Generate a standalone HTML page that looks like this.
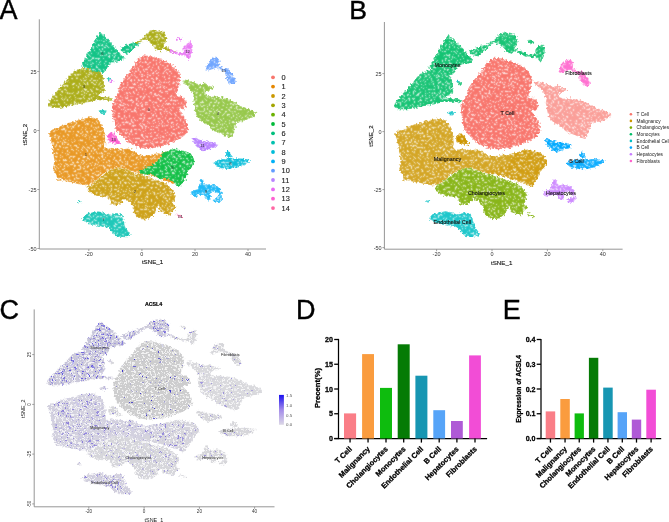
<!DOCTYPE html>
<html><head><meta charset="utf-8"><style>
html,body{margin:0;padding:0;background:#fff;}
svg{display:block;font-family:"Liberation Sans",sans-serif;will-change:transform;}
</style></head><body>
<svg width="669" height="522" viewBox="0 0 669 522">
<rect width="669" height="522" fill="#fff"/>
<defs><filter id="spkc" x="0" y="0" width="1" height="1" filterUnits="objectBoundingBox" color-interpolation-filters="sRGB"><feTurbulence type="fractalNoise" baseFrequency="0.55" numOctaves="2" seed="11"/><feColorMatrix type="matrix" values="0 0 0 0 1  0 0 0 0 1  0 0 0 0 1  -14 0 0 0 6.4"/></filter><filter id="pa" x="0" y="0" width="1" height="1" filterUnits="objectBoundingBox" color-interpolation-filters="sRGB"><feTurbulence type="fractalNoise" baseFrequency="0.6" numOctaves="2" seed="23"/><feColorMatrix type="matrix" values="0 0 0 0 0.55  0 0 0 0 0.5  0 0 0 0 0.86  -14 0 0 0 4.35"/></filter><filter id="pb" x="0" y="0" width="1" height="1" filterUnits="objectBoundingBox" color-interpolation-filters="sRGB"><feTurbulence type="fractalNoise" baseFrequency="0.45" numOctaves="2" seed="41"/><feColorMatrix type="matrix" values="0 0 0 0 0.5  0 0 0 0 0.45  0 0 0 0 0.85  -14 0 0 0 4.5"/></filter><filter id="pc" x="0" y="0" width="1" height="1" filterUnits="objectBoundingBox" color-interpolation-filters="sRGB"><feTurbulence type="fractalNoise" baseFrequency="0.5" numOctaves="2" seed="57"/><feColorMatrix type="matrix" values="0 0 0 0 0.25  0 0 0 0 0.22  0 0 0 0 0.8  -16 0 0 0 4.75"/></filter><filter id="pd" x="0" y="0" width="1" height="1" filterUnits="objectBoundingBox" color-interpolation-filters="sRGB"><feTurbulence type="fractalNoise" baseFrequency="0.45" numOctaves="2" seed="77"/><feColorMatrix type="matrix" values="0 0 0 0 0.36  0 0 0 0 0.32  0 0 0 0 0.88  -14 0 0 0 4.9"/></filter><filter id="rough" x="-0.05" y="-0.05" width="1.1" height="1.1" color-interpolation-filters="sRGB"><feTurbulence type="fractalNoise" baseFrequency="0.5" numOctaves="2" seed="5" result="t"/><feDisplacementMap in="SourceGraphic" in2="t" scale="5.0" xChannelSelector="R" yChannelSelector="G"/></filter><filter id="spk" x="0" y="0" width="1" height="1" filterUnits="objectBoundingBox" color-interpolation-filters="sRGB"><feTurbulence type="fractalNoise" baseFrequency="0.55" numOctaves="2" seed="7"/><feColorMatrix type="matrix" values="0 0 0 0 1  0 0 0 0 1  0 0 0 0 1  -14 0 0 0 5.8"/><feConvolveMatrix order="3" kernelMatrix="0.5 1 0.5 1 4.5 1 0.5 1 0.5" edgeMode="none"/></filter></defs>
<text x="-0.5" y="19.3" font-size="27" fill="#000" stroke="#000" stroke-width="0.4">A</text>
<g filter="url(#rough)"><path d="M100.2 32.4 L104.5 36.3 L108.8 40.6 L112.2 44.1 L115.6 48.4 L118.2 51.8 L120.8 55.2 L124.2 58.2 L122.5 59.9 L118.2 60.9 L112.2 62.1 L107.9 65.0 L106.2 69.9 L103.6 72.4 L98.4 72.4 L93.3 71.6 L89.0 69.9 L85.0 67.3 L81.3 65.0 L83.8 62.1 L86.1 58.7 L86.8 54.4 L89.9 50.9 L92.4 45.8 L94.7 40.6 L96.7 37.2 Z" fill="#14C487" stroke="#14C487" stroke-width="0.7" stroke-linejoin="round"/>
<path d="M120.8 48.4 L125.9 45.8 L131.1 43.7 L136.3 42.3 L139.7 42.0 L138.8 44.9 L134.5 47.5 L131.1 50.9 L127.7 53.5 L124.2 52.7 L121.7 50.9 Z" fill="#14C487" stroke="#14C487" stroke-width="0.7" stroke-linejoin="round"/>
<path d="M144.9 36.3 L147.4 32.9 L151.7 30.7 L155.0 30.0 L155.0 45.8 L151.7 44.1 L149.2 41.5 L145.7 39.8 Z" fill="#ACAE1A" stroke="#ACAE1A" stroke-width="0.7" stroke-linejoin="round"/>
<path d="M136.3 42.0 L141.4 39.3 L145.2 37.2 L145.7 38.9 L141.8 41.0 L137.1 43.4 Z" fill="#ACAE1A" stroke="#ACAE1A" stroke-width="0.7" stroke-linejoin="round"/>
<path d="M109.6 80.2 L111.9 79.8 L113.1 81.5 L110.8 82.9 Z" fill="#E97AF4" stroke="#E97AF4" stroke-width="0.7" stroke-linejoin="round"/>
<path d="M107.9 78.4 L110.1 78.1 L110.5 79.8 L108.4 80.2 Z" fill="#1FC8B9" stroke="#1FC8B9" stroke-width="0.7" stroke-linejoin="round"/>
<path d="M155.0 31.2 L158.4 30.3 L162.7 31.2 L164.5 33.8 L166.2 37.2 L165.3 41.5 L163.6 44.9 L162.7 48.4 L161.0 50.9 L158.4 50.1 L155.0 48.4 Z" fill="#ACAE1A" stroke="#ACAE1A" stroke-width="0.7" stroke-linejoin="round"/>
<path d="M164.5 46.6 L170.5 49.6 L175.6 51.8 L175.3 53.5 L169.6 51.3 L163.9 48.9 Z" fill="#ACAE1A" stroke="#ACAE1A" stroke-width="0.7" stroke-linejoin="round"/>
<path d="M177.0 37.5 L179.9 38.0 L182.2 39.8 L180.8 41.0 L177.7 39.3 Z" fill="#E97AF4" stroke="#E97AF4" stroke-width="0.7" stroke-linejoin="round"/>
<path d="M170.8 50.6 L175.6 52.0 L179.1 52.7 L183.4 52.3 L183.9 54.0 L179.1 54.4 L175.3 53.7 L170.5 52.0 Z" fill="#E97AF4" stroke="#E97AF4" stroke-width="0.7" stroke-linejoin="round"/>
<path d="M99.3 111.2 L102.7 110.0 L106.2 111.7 L104.5 113.8 L101.0 113.4 Z" fill="#1FC8B9" stroke="#1FC8B9" stroke-width="0.7" stroke-linejoin="round"/>
<path d="M107.9 135.2 L110.5 132.7 L113.9 133.0 L115.6 136.1 L118.2 140.4 L120.8 143.0 L118.2 144.3 L113.9 142.6 L109.6 142.1 L107.9 139.5 Z" fill="#FD61D1" stroke="#FD61D1" stroke-width="0.7" stroke-linejoin="round"/>
<path d="M192.8 138.7 L196.3 138.2 L198.8 139.9 L203.1 141.3 L208.3 142.1 L213.4 142.6 L217.7 144.7 L216.0 147.3 L211.7 147.8 L207.4 149.9 L203.1 150.7 L199.7 149.0 L196.3 146.1 L194.2 143.0 Z" fill="#B983FF" stroke="#B983FF" stroke-width="0.7" stroke-linejoin="round"/>
<path d="M213.4 162.7 L218.6 160.2 L225.5 159.3 L234.1 158.8 L242.7 159.0 L249.5 160.2 L246.1 163.6 L240.9 166.2 L234.1 167.9 L227.2 168.4 L222.0 167.9 L216.9 166.2 Z" fill="#0DBFDA" stroke="#0DBFDA" stroke-width="0.7" stroke-linejoin="round"/>
<path d="M225.5 155.9 L227.2 150.7 L228.9 151.6 L230.6 155.0 L232.4 156.7 L228.9 156.7 Z" fill="#0DBFDA" stroke="#0DBFDA" stroke-width="0.7" stroke-linejoin="round"/>
<path d="M82.1 218.7 L84.7 215.2 L89.0 213.5 L93.3 212.7 L98.4 211.8 L101.9 212.7 L105.3 214.4 L108.8 215.2 L112.2 214.4 L115.6 213.5 L119.9 214.0 L122.5 217.0 L123.4 221.3 L124.2 225.6 L126.8 229.9 L130.2 235.0 L127.7 236.7 L120.8 236.7 L115.6 235.9 L113.1 233.3 L111.3 229.9 L107.9 227.3 L103.6 226.4 L98.4 225.6 L93.3 224.3 L89.0 223.0 L84.7 221.3 Z" fill="#1FC8B9" stroke="#1FC8B9" stroke-width="0.7" stroke-linejoin="round"/>
<path d="M78.2 200.6 L80.9 201.0 L81.6 202.7 L78.8 202.3 Z" fill="#1FC8B9" stroke="#1FC8B9" stroke-width="0.7" stroke-linejoin="round"/>
<path d="M176.5 214.0 L179.9 215.2 L182.5 216.1 L182.2 217.5 L179.4 216.6 L176.0 215.1 Z" fill="#FF67A4" stroke="#FF67A4" stroke-width="0.7" stroke-linejoin="round"/>
<path d="M49.2 133.0 L52.3 129.9 L56.9 129.2 L59.9 126.9 L64.5 124.6 L70.7 123.0 L76.8 120.7 L82.9 119.2 L89.0 117.7 L95.2 118.4 L98.2 120.0 L101.3 125.3 L103.0 128.4 L104.0 133.0 L104.6 137.6 L104.8 142.2 L104.5 146.8 L107.0 149.6 L112.0 148.3 L117.0 149.0 L122.5 149.9 L127.7 149.0 L131.1 149.9 L133.7 151.6 L138.0 155.0 L143.1 156.7 L150.0 155.0 L155.0 154.2 L160.1 153.5 L165.3 152.2 L173.0 150.8 L180.0 152.0 L186.0 155.0 L188.0 162.0 L186.0 170.0 L182.0 177.0 L178.0 182.5 L174.0 183.5 L170.4 182.5 L166.5 180.8 L160.1 178.1 L152.4 175.4 L144.7 174.0 L137.0 172.6 L129.3 169.9 L121.6 167.2 L116.5 167.2 L108.8 169.9 L102.3 174.0 L97.2 179.4 L90.8 183.5 L85.6 184.9 L77.9 183.5 L72.8 182.2 L65.1 180.8 L60.0 178.1 L56.1 174.0 L53.5 168.5 L54.8 160.4 L53.5 152.2 L52.3 144.0 L51.0 138.5 Z" fill="#E99926" stroke="#E99926" stroke-width="0.7" stroke-linejoin="round"/>
<path d="M56.5 174.5 L59.0 173.5 L61.5 175.5 L60.5 179.0 L57.5 179.5 Z" fill="#E99926" stroke="#E99926" stroke-width="0.7" stroke-linejoin="round"/>
<path d="M88.2 186.3 L93.4 183.5 L99.8 178.1 L104.9 174.0 L111.3 169.9 L119.0 168.0 L126.7 169.9 L134.4 173.4 L142.1 175.4 L149.8 178.1 L157.6 180.8 L165.3 183.5 L170.4 187.6 L173.4 191.8 L175.2 195.4 L174.3 199.0 L173.4 201.7 L171.6 204.3 L174.3 206.1 L176.1 207.9 L173.4 209.7 L171.6 211.5 L170.7 214.2 L168.9 215.1 L164.5 213.3 L160.9 212.4 L159.1 210.6 L160.0 207.9 L159.1 206.1 L157.3 207.0 L155.9 209.7 L154.6 213.3 L151.9 216.0 L148.3 218.3 L144.7 219.1 L141.1 218.7 L137.6 216.9 L134.9 214.2 L134.0 211.5 L134.0 207.9 L131.3 203.5 L128.6 200.8 L125.0 198.5 L123.0 199.0 L120.8 203.0 L115.6 204.9 L111.3 204.1 L110.5 200.6 L109.6 197.2 L103.6 196.3 L96.7 195.5 L91.6 192.9 L88.1 190.3 Z" fill="#CEA21A" stroke="#CEA21A" stroke-width="0.7" stroke-linejoin="round"/>
<path d="M183.1 80.7 L186.1 79.9 L190.7 81.5 L195.3 83.0 L199.9 85.3 L203.0 84.5 L205.3 83.0 L206.8 85.3 L210.7 86.8 L213.7 87.6 L211.4 89.1 L207.6 90.7 L204.5 93.0 L206.8 96.0 L210.7 97.5 L215.2 96.8 L219.8 97.5 L224.4 98.3 L229.0 99.8 L233.6 102.1 L239.8 106.0 L245.9 108.3 L252.0 110.6 L255.9 113.6 L253.6 116.7 L249.0 118.2 L244.4 120.5 L239.8 121.3 L236.7 122.8 L235.2 127.4 L233.6 132.0 L232.1 135.9 L229.0 137.4 L226.0 135.9 L221.4 133.6 L216.8 132.0 L212.2 129.7 L209.9 125.9 L206.1 123.6 L201.5 121.3 L198.4 118.2 L196.9 115.2 L195.3 110.6 L194.6 106.0 L193.8 101.4 L194.6 96.8 L192.3 92.2 L189.2 87.6 L186.1 84.5 L183.1 83.0 Z" fill="#97C84C" stroke="#97C84C" stroke-width="0.7" stroke-linejoin="round"/>
<path d="M190.3 41.5 L191.5 43.9 L192.1 46.9 L191.8 50.5 L191.3 53.5 L189.7 57.1 L188.5 59.5 L187.3 58.3 L186.1 55.9 L184.9 54.1 L183.2 53.5 L184.3 51.7 L183.8 48.7 L184.1 46.3 L186.1 44.5 L188.5 43.3 Z" fill="#E97AF4" stroke="#E97AF4" stroke-width="0.7" stroke-linejoin="round"/>
<path d="M177.2 37.9 L179.6 38.5 L182.0 40.3 L180.8 40.9 L177.8 39.7 Z" fill="#E97AF4" stroke="#E97AF4" stroke-width="0.7" stroke-linejoin="round"/>
<path d="M170.0 49.3 L172.4 50.5 L174.8 51.7 L176.0 53.5 L174.2 53.7 L171.8 52.3 L170.0 51.1 Z" fill="#E97AF4" stroke="#E97AF4" stroke-width="0.7" stroke-linejoin="round"/>
<path d="M179.0 54.7 L181.4 53.5 L183.8 52.9 L184.3 54.1 L182.0 54.9 L179.6 55.6 Z" fill="#E97AF4" stroke="#E97AF4" stroke-width="0.7" stroke-linejoin="round"/>
<path d="M217.2 65.2 L221.4 67.8 L225.2 69.7 L224.8 71.4 L220.8 69.6 L216.9 67.1 Z" fill="#71A6FF" stroke="#71A6FF" stroke-width="0.7" stroke-linejoin="round"/>
<path d="M223.7 69.5 L227.5 69.3 L229.8 70.7 L231.3 73.0 L232.9 75.3 L234.4 78.4 L235.5 81.5 L233.6 84.5 L230.6 84.2 L228.3 81.5 L226.7 78.4 L226.0 75.3 L224.4 72.3 Z" fill="#71A6FF" stroke="#71A6FF" stroke-width="0.7" stroke-linejoin="round"/>
<path d="M139.0 58.5 L143.5 55.8 L147.9 56.2 L152.4 56.7 L156.9 58.5 L161.4 59.8 L165.9 61.6 L170.4 64.3 L174.8 67.4 L177.5 71.0 L179.3 74.6 L180.1 78.0 L179.5 81.5 L179.0 84.9 L177.8 89.5 L176.7 93.0 L176.1 96.4 L178.4 97.0 L181.3 96.4 L183.6 98.2 L185.3 101.0 L185.9 104.5 L184.7 107.9 L183.0 109.1 L180.7 107.5 L179.0 109.5 L181.3 112.5 L183.6 116.0 L185.3 119.4 L187.0 122.9 L187.6 126.3 L187.7 130.8 L185.3 134.3 L181.7 137.3 L177.0 139.7 L172.2 142.1 L167.4 143.9 L162.6 145.7 L157.8 146.9 L153.0 147.5 L148.3 148.1 L143.5 147.7 L138.7 146.9 L134.2 145.1 L130.5 143.3 L126.7 140.9 L123.2 137.3 L119.4 133.2 L116.0 128.4 L114.6 124.0 L114.0 120.0 L113.3 115.0 L112.7 110.0 L112.8 105.0 L114.0 101.0 L116.2 97.0 L118.0 93.0 L119.2 89.1 L120.3 85.3 L122.3 82.0 L125.0 78.0 L128.5 74.0 L131.0 70.0 L134.0 66.0 L136.5 61.5 Z" fill="#F8766D" stroke="#F8766D" stroke-width="0.7" stroke-linejoin="round"/>
<path d="M191.1 192.1 L193.7 190.8 L196.4 190.1 L198.4 188.4 L199.1 185.1 L200.5 183.1 L201.1 179.4 L202.5 179.0 L203.2 181.7 L204.5 184.4 L205.8 185.8 L207.9 185.1 L210.6 184.4 L213.2 184.4 L215.9 185.8 L218.6 187.8 L220.6 190.5 L221.3 193.2 L221.3 195.8 L221.7 199.2 L220.6 201.2 L218.0 202.6 L215.3 201.9 L213.2 200.6 L213.9 199.2 L216.6 198.5 L218.6 197.2 L219.3 195.2 L218.6 193.5 L216.6 192.5 L214.6 191.8 L212.6 191.1 L210.6 191.8 L209.9 193.8 L210.6 196.5 L209.9 199.9 L208.5 200.2 L206.5 198.5 L205.2 196.5 L203.8 194.5 L201.8 194.2 L199.8 194.5 L197.1 195.2 L195.1 196.5 L193.1 196.5 L192.1 194.5 Z" fill="#1FB9F7" stroke="#1FB9F7" stroke-width="0.7" stroke-linejoin="round"/>
<path d="M163.2 152.6 L167.1 151.7 L171.9 149.7 L175.8 149.2 L180.7 150.7 L185.5 151.7 L190.4 153.6 L193.3 158.5 L194.3 162.4 L192.3 166.2 L189.4 169.2 L187.5 172.1 L186.5 176.0 L184.6 179.8 L182.6 182.8 L180.7 185.7 L177.8 186.6 L175.8 184.7 L173.9 181.8 L171.0 179.8 L168.0 178.9 L164.2 177.9 L160.3 178.9 L157.4 176.9 L154.4 175.0 L149.6 174.0 L144.7 174.0 L140.8 173.0 L140.3 171.1 L143.7 169.2 L147.6 167.2 L151.5 166.2 L154.4 164.3 L157.4 161.4 L160.3 158.5 L162.2 155.5 Z" fill="#14C048" stroke="#14C048" stroke-width="0.7" stroke-linejoin="round"/>
<path d="M48.9 104.3 L50.3 99.9 L53.8 95.6 L58.0 90.5 L61.5 86.2 L65.8 81.9 L69.2 76.7 L73.5 71.6 L79.5 69.0 L84.7 68.1 L89.9 70.2 L95.0 71.9 L100.2 72.9 L102.7 75.9 L103.6 81.9 L103.5 87.0 L104.5 90.6 L100.0 94.0 L97.5 96.5 L104.0 97.2 L110.5 98.2 L112.5 99.5 L110.0 100.3 L100.0 99.8 L96.0 99.5 L90.7 101.3 L83.0 102.9 L75.3 104.4 L67.7 106.0 L60.0 107.5 L50.3 107.2 Z" fill="#ACAE1A" stroke="#ACAE1A" stroke-width="0.7" stroke-linejoin="round"/>
<path d="M205.9 70.5 L207.0 67.0 L208.0 63.5 L209.5 60.5 L212.0 58.5 L215.0 57.8 L218.0 58.5 L219.2 61.0 L219.0 64.0 L218.5 66.0 L216.0 67.5 L213.0 68.5 L210.0 69.5 Z" fill="#71A6FF" stroke="#71A6FF" stroke-width="0.7" stroke-linejoin="round"/></g>
<rect x="40" y="20" width="226" height="228" fill="#fff" opacity="0.9" filter="url(#spk)"/>
<text x="149.0" y="110.5" font-size="4.2" fill="#333" text-anchor="middle">0</text>
<text x="86.0" y="155.5" font-size="4.2" fill="#333" text-anchor="middle">1</text>
<text x="135.0" y="193.0" font-size="4.2" fill="#333" text-anchor="middle">2</text>
<text x="84.0" y="88.0" font-size="4.2" fill="#333" text-anchor="middle">3</text>
<text x="218.0" y="115.0" font-size="4.2" fill="#333" text-anchor="middle">4</text>
<text x="172.5" y="169.0" font-size="4.2" fill="#333" text-anchor="middle">5</text>
<text x="102.5" y="55.0" font-size="4.2" fill="#333" text-anchor="middle">6</text>
<text x="103.5" y="220.5" font-size="4.2" fill="#333" text-anchor="middle">7</text>
<text x="230.5" y="164.5" font-size="4.2" fill="#333" text-anchor="middle">8</text>
<text x="206.0" y="193.0" font-size="4.2" fill="#333" text-anchor="middle">9</text>
<text x="223.5" y="72.0" font-size="4.2" fill="#333" text-anchor="middle">10</text>
<text x="202.5" y="146.5" font-size="4.2" fill="#333" text-anchor="middle">11</text>
<text x="187.5" y="52.5" font-size="4.2" fill="#333" text-anchor="middle">12</text>
<text x="113.5" y="140.5" font-size="4.2" fill="#333" text-anchor="middle">13</text>
<text x="180.0" y="218.0" font-size="4.2" fill="#333" text-anchor="middle">14</text>
<line x1="39.3" y1="19.3" x2="39.3" y2="249.0" stroke="#8a8a8a" stroke-width="0.9"/>
<line x1="39.3" y1="249.0" x2="266.0" y2="249.0" stroke="#8a8a8a" stroke-width="0.9"/>
<line x1="37.3" y1="71.5" x2="39.3" y2="71.5" stroke="#8a8a8a" stroke-width="0.8"/>
<text x="36.5" y="73.5" font-size="5.5" fill="#333" text-anchor="end">25</text>
<line x1="37.3" y1="130.5" x2="39.3" y2="130.5" stroke="#8a8a8a" stroke-width="0.8"/>
<text x="36.5" y="132.5" font-size="5.5" fill="#333" text-anchor="end">0</text>
<line x1="37.3" y1="189.5" x2="39.3" y2="189.5" stroke="#8a8a8a" stroke-width="0.8"/>
<text x="36.5" y="191.5" font-size="5.5" fill="#333" text-anchor="end">-25</text>
<line x1="37.3" y1="248.5" x2="39.3" y2="248.5" stroke="#8a8a8a" stroke-width="0.8"/>
<text x="36.5" y="250.5" font-size="5.5" fill="#333" text-anchor="end">-50</text>
<line x1="88.8" y1="249.0" x2="88.8" y2="251.0" stroke="#8a8a8a" stroke-width="0.8"/>
<text x="88.8" y="255.5" font-size="5.5" fill="#333" text-anchor="middle">-20</text>
<line x1="141.9" y1="249.0" x2="141.9" y2="251.0" stroke="#8a8a8a" stroke-width="0.8"/>
<text x="141.9" y="255.5" font-size="5.5" fill="#333" text-anchor="middle">0</text>
<line x1="195.0" y1="249.0" x2="195.0" y2="251.0" stroke="#8a8a8a" stroke-width="0.8"/>
<text x="195.0" y="255.5" font-size="5.5" fill="#333" text-anchor="middle">20</text>
<line x1="248.0" y1="249.0" x2="248.0" y2="251.0" stroke="#8a8a8a" stroke-width="0.8"/>
<text x="248.0" y="255.5" font-size="5.5" fill="#333" text-anchor="middle">40</text>
<text x="141.9" y="264.2" font-size="6.2" fill="#111" stroke="#111" stroke-width="0.12">tSNE_1</text>
<text x="0" y="0" font-size="6.2" fill="#111" stroke="#111" stroke-width="0.12" text-anchor="middle" transform="translate(27.4 134.5) rotate(-90)">tSNE_2</text>
<circle cx="273" cy="77.3" r="1.9" fill="#F8766D"/>
<text x="281.6" y="80.0" font-size="7.4" fill="#222" stroke="#222" stroke-width="0.12">0</text>
<circle cx="273" cy="86.6" r="1.9" fill="#E58700"/>
<text x="281.6" y="89.3" font-size="7.4" fill="#222" stroke="#222" stroke-width="0.12">1</text>
<circle cx="273" cy="96.0" r="1.9" fill="#C99800"/>
<text x="281.6" y="98.7" font-size="7.4" fill="#222" stroke="#222" stroke-width="0.12">2</text>
<circle cx="273" cy="105.3" r="1.9" fill="#A3A500"/>
<text x="281.6" y="108.0" font-size="7.4" fill="#222" stroke="#222" stroke-width="0.12">3</text>
<circle cx="273" cy="114.7" r="1.9" fill="#6BB100"/>
<text x="281.6" y="117.4" font-size="7.4" fill="#222" stroke="#222" stroke-width="0.12">4</text>
<circle cx="273" cy="124.0" r="1.9" fill="#00BA38"/>
<text x="281.6" y="126.7" font-size="7.4" fill="#222" stroke="#222" stroke-width="0.12">5</text>
<circle cx="273" cy="133.3" r="1.9" fill="#00BF7D"/>
<text x="281.6" y="136.0" font-size="7.4" fill="#222" stroke="#222" stroke-width="0.12">6</text>
<circle cx="273" cy="142.7" r="1.9" fill="#00C0AF"/>
<text x="281.6" y="145.4" font-size="7.4" fill="#222" stroke="#222" stroke-width="0.12">7</text>
<circle cx="273" cy="152.0" r="1.9" fill="#00BCD8"/>
<text x="281.6" y="154.7" font-size="7.4" fill="#222" stroke="#222" stroke-width="0.12">8</text>
<circle cx="273" cy="161.4" r="1.9" fill="#00B0F6"/>
<text x="281.6" y="164.1" font-size="7.4" fill="#222" stroke="#222" stroke-width="0.12">9</text>
<circle cx="273" cy="170.7" r="1.9" fill="#619CFF"/>
<text x="281.6" y="173.4" font-size="7.4" fill="#222" stroke="#222" stroke-width="0.12">10</text>
<circle cx="273" cy="180.0" r="1.9" fill="#B983FF"/>
<text x="281.6" y="182.7" font-size="7.4" fill="#222" stroke="#222" stroke-width="0.12">11</text>
<circle cx="273" cy="189.4" r="1.9" fill="#E76BF3"/>
<text x="281.6" y="192.1" font-size="7.4" fill="#222" stroke="#222" stroke-width="0.12">12</text>
<circle cx="273" cy="198.7" r="1.9" fill="#FD61D1"/>
<text x="281.6" y="201.4" font-size="7.4" fill="#222" stroke="#222" stroke-width="0.12">13</text>
<circle cx="273" cy="208.1" r="1.9" fill="#FF67A4"/>
<text x="281.6" y="210.8" font-size="7.4" fill="#222" stroke="#222" stroke-width="0.12">14</text>
<text x="349.3" y="19.4" font-size="26.6" fill="#000" stroke="#000" stroke-width="0.4">B</text>
<g filter="url(#rough)"><g transform="matrix(1.0441,0,0,0.983,343.84,3.32)"><path d="M100.2 32.4 L104.5 36.3 L108.8 40.6 L112.2 44.1 L115.6 48.4 L118.2 51.8 L120.8 55.2 L124.2 58.2 L122.5 59.9 L118.2 60.9 L112.2 62.1 L107.9 65.0 L106.2 69.9 L103.6 72.4 L98.4 72.4 L93.3 71.6 L89.0 69.9 L85.0 67.3 L81.3 65.0 L83.8 62.1 L86.1 58.7 L86.8 54.4 L89.9 50.9 L92.4 45.8 L94.7 40.6 L96.7 37.2 Z" fill="#14C373" stroke="#14C373" stroke-width="0.7" stroke-linejoin="round"/>
<path d="M120.8 48.4 L125.9 45.8 L131.1 43.7 L136.3 42.3 L139.7 42.0 L138.8 44.9 L134.5 47.5 L131.1 50.9 L127.7 53.5 L124.2 52.7 L121.7 50.9 Z" fill="#14C373" stroke="#14C373" stroke-width="0.7" stroke-linejoin="round"/>
<path d="M144.9 36.3 L147.4 32.9 L151.7 30.7 L155.0 30.0 L155.0 45.8 L151.7 44.1 L149.2 41.5 L145.7 39.8 Z" fill="#1AC476" stroke="#1AC476" stroke-width="0.7" stroke-linejoin="round"/>
<path d="M136.3 42.0 L141.4 39.3 L145.2 37.2 L145.7 38.9 L141.8 41.0 L137.1 43.4 Z" fill="#1AC476" stroke="#1AC476" stroke-width="0.7" stroke-linejoin="round"/>
<path d="M109.6 80.2 L111.9 79.8 L113.1 81.5 L110.8 82.9 Z" fill="#1AC476" stroke="#1AC476" stroke-width="0.7" stroke-linejoin="round"/>
<path d="M107.9 78.4 L110.1 78.1 L110.5 79.8 L108.4 80.2 Z" fill="#1FC7CB" stroke="#1FC7CB" stroke-width="0.7" stroke-linejoin="round"/>
<path d="M155.0 31.2 L158.4 30.3 L162.7 31.2 L164.5 33.8 L166.2 37.2 L165.3 41.5 L163.6 44.9 L162.7 48.4 L161.0 50.9 L158.4 50.1 L155.0 48.4 Z" fill="#1AC476" stroke="#1AC476" stroke-width="0.7" stroke-linejoin="round"/>
<path d="M164.5 46.6 L170.5 49.6 L175.6 51.8 L175.3 53.5 L169.6 51.3 L163.9 48.9 Z" fill="#1AC476" stroke="#1AC476" stroke-width="0.7" stroke-linejoin="round"/>
<path d="M177.0 37.5 L179.9 38.0 L182.2 39.8 L180.8 41.0 L177.7 39.3 Z" fill="#1AC476" stroke="#1AC476" stroke-width="0.7" stroke-linejoin="round"/>
<path d="M170.8 50.6 L175.6 52.0 L179.1 52.7 L183.4 52.3 L183.9 54.0 L179.1 54.4 L175.3 53.7 L170.5 52.0 Z" fill="#1AC476" stroke="#1AC476" stroke-width="0.7" stroke-linejoin="round"/>
<path d="M99.3 111.2 L102.7 110.0 L106.2 111.7 L104.5 113.8 L101.0 113.4 Z" fill="#1FC7CB" stroke="#1FC7CB" stroke-width="0.7" stroke-linejoin="round"/>
<path d="M107.9 135.2 L110.5 132.7 L113.9 133.0 L115.6 136.1 L118.2 140.4 L120.8 143.0 L118.2 144.3 L113.9 142.6 L109.6 142.1 L107.9 139.5 Z" fill="#CD9600" stroke="#CD9600" stroke-width="0.7" stroke-linejoin="round"/>
<path d="M192.8 138.7 L196.3 138.2 L198.8 139.9 L203.1 141.3 L208.3 142.1 L213.4 142.6 L217.7 144.7 L216.0 147.3 L211.7 147.8 L207.4 149.9 L203.1 150.7 L199.7 149.0 L196.3 146.1 L194.2 143.0 Z" fill="#00A9FF" stroke="#00A9FF" stroke-width="0.7" stroke-linejoin="round"/>
<path d="M213.4 162.7 L218.6 160.2 L225.5 159.3 L234.1 158.8 L242.7 159.0 L249.5 160.2 L246.1 163.6 L240.9 166.2 L234.1 167.9 L227.2 168.4 L222.0 167.9 L216.9 166.2 Z" fill="#0DADFF" stroke="#0DADFF" stroke-width="0.7" stroke-linejoin="round"/>
<path d="M225.5 155.9 L227.2 150.7 L228.9 151.6 L230.6 155.0 L232.4 156.7 L228.9 156.7 Z" fill="#0DADFF" stroke="#0DADFF" stroke-width="0.7" stroke-linejoin="round"/>
<path d="M82.1 218.7 L84.7 215.2 L89.0 213.5 L93.3 212.7 L98.4 211.8 L101.9 212.7 L105.3 214.4 L108.8 215.2 L112.2 214.4 L115.6 213.5 L119.9 214.0 L122.5 217.0 L123.4 221.3 L124.2 225.6 L126.8 229.9 L130.2 235.0 L127.7 236.7 L120.8 236.7 L115.6 235.9 L113.1 233.3 L111.3 229.9 L107.9 227.3 L103.6 226.4 L98.4 225.6 L93.3 224.3 L89.0 223.0 L84.7 221.3 Z" fill="#1FC7CB" stroke="#1FC7CB" stroke-width="0.7" stroke-linejoin="round"/>
<path d="M78.2 200.6 L80.9 201.0 L81.6 202.7 L78.8 202.3 Z" fill="#1FC7CB" stroke="#1FC7CB" stroke-width="0.7" stroke-linejoin="round"/>
<path d="M176.5 214.0 L179.9 215.2 L182.5 216.1 L182.2 217.5 L179.4 216.6 L176.0 215.1 Z" fill="#7CAE00" stroke="#7CAE00" stroke-width="0.7" stroke-linejoin="round"/>
<path d="M49.2 133.0 L52.3 129.9 L56.9 129.2 L59.9 126.9 L64.5 124.6 L70.7 123.0 L76.8 120.7 L82.9 119.2 L89.0 117.7 L95.2 118.4 L98.2 120.0 L101.3 125.3 L103.0 128.4 L104.0 133.0 L104.6 137.6 L104.8 142.2 L104.5 146.8 L107.0 149.6 L112.0 148.3 L117.0 149.0 L122.5 149.9 L127.7 149.0 L131.1 149.9 L133.7 151.6 L138.0 155.0 L143.1 156.7 L150.0 155.0 L155.0 154.2 L160.1 153.5 L165.3 152.2 L173.0 150.8 L180.0 152.0 L186.0 155.0 L188.0 162.0 L186.0 170.0 L182.0 177.0 L178.0 182.5 L174.0 183.5 L170.4 182.5 L166.5 180.8 L160.1 178.1 L152.4 175.4 L144.7 174.0 L137.0 172.6 L129.3 169.9 L121.6 167.2 L116.5 167.2 L108.8 169.9 L102.3 174.0 L97.2 179.4 L90.8 183.5 L85.6 184.9 L77.9 183.5 L72.8 182.2 L65.1 180.8 L60.0 178.1 L56.1 174.0 L53.5 168.5 L54.8 160.4 L53.5 152.2 L52.3 144.0 L51.0 138.5 Z" fill="#D4A626" stroke="#D4A626" stroke-width="0.7" stroke-linejoin="round"/>
<path d="M56.5 174.5 L59.0 173.5 L61.5 175.5 L60.5 179.0 L57.5 179.5 Z" fill="#D4A626" stroke="#D4A626" stroke-width="0.7" stroke-linejoin="round"/>
<path d="M88.2 186.3 L93.4 183.5 L99.8 178.1 L104.9 174.0 L111.3 169.9 L119.0 168.0 L126.7 169.9 L134.4 173.4 L142.1 175.4 L149.8 178.1 L157.6 180.8 L165.3 183.5 L170.4 187.6 L173.4 191.8 L175.2 195.4 L174.3 199.0 L173.4 201.7 L171.6 204.3 L174.3 206.1 L176.1 207.9 L173.4 209.7 L171.6 211.5 L170.7 214.2 L168.9 215.1 L164.5 213.3 L160.9 212.4 L159.1 210.6 L160.0 207.9 L159.1 206.1 L157.3 207.0 L155.9 209.7 L154.6 213.3 L151.9 216.0 L148.3 218.3 L144.7 219.1 L141.1 218.7 L137.6 216.9 L134.9 214.2 L134.0 211.5 L134.0 207.9 L131.3 203.5 L128.6 200.8 L125.0 198.5 L123.0 199.0 L120.8 203.0 L115.6 204.9 L111.3 204.1 L110.5 200.6 L109.6 197.2 L103.6 196.3 L96.7 195.5 L91.6 192.9 L88.1 190.3 Z" fill="#89B61A" stroke="#89B61A" stroke-width="0.7" stroke-linejoin="round"/>
<path d="M183.1 80.7 L186.1 79.9 L190.7 81.5 L195.3 83.0 L199.9 85.3 L203.0 84.5 L205.3 83.0 L206.8 85.3 L210.7 86.8 L213.7 87.6 L211.4 89.1 L207.6 90.7 L204.5 93.0 L206.8 96.0 L210.7 97.5 L215.2 96.8 L219.8 97.5 L224.4 98.3 L229.0 99.8 L233.6 102.1 L239.8 106.0 L245.9 108.3 L252.0 110.6 L255.9 113.6 L253.6 116.7 L249.0 118.2 L244.4 120.5 L239.8 121.3 L236.7 122.8 L235.2 127.4 L233.6 132.0 L232.1 135.9 L229.0 137.4 L226.0 135.9 L221.4 133.6 L216.8 132.0 L212.2 129.7 L209.9 125.9 L206.1 123.6 L201.5 121.3 L198.4 118.2 L196.9 115.2 L195.3 110.6 L194.6 106.0 L193.8 101.4 L194.6 96.8 L192.3 92.2 L189.2 87.6 L186.1 84.5 L183.1 83.0 Z" fill="#FA9F99" stroke="#FA9F99" stroke-width="0.7" stroke-linejoin="round"/>
<path d="M190.3 41.5 L191.5 43.9 L192.1 46.9 L191.8 50.5 L191.3 53.5 L189.7 57.1 L188.5 59.5 L187.3 58.3 L186.1 55.9 L184.9 54.1 L183.2 53.5 L184.3 51.7 L183.8 48.7 L184.1 46.3 L186.1 44.5 L188.5 43.3 Z" fill="#1AC476" stroke="#1AC476" stroke-width="0.7" stroke-linejoin="round"/>
<path d="M177.2 37.9 L179.6 38.5 L182.0 40.3 L180.8 40.9 L177.8 39.7 Z" fill="#1AC476" stroke="#1AC476" stroke-width="0.7" stroke-linejoin="round"/>
<path d="M170.0 49.3 L172.4 50.5 L174.8 51.7 L176.0 53.5 L174.2 53.7 L171.8 52.3 L170.0 51.1 Z" fill="#1AC476" stroke="#1AC476" stroke-width="0.7" stroke-linejoin="round"/>
<path d="M179.0 54.7 L181.4 53.5 L183.8 52.9 L184.3 54.1 L182.0 54.9 L179.6 55.6 Z" fill="#1AC476" stroke="#1AC476" stroke-width="0.7" stroke-linejoin="round"/>
<path d="M217.2 65.2 L221.4 67.8 L225.2 69.7 L224.8 71.4 L220.8 69.6 L216.9 67.1 Z" fill="#FF71D1" stroke="#FF71D1" stroke-width="0.7" stroke-linejoin="round"/>
<path d="M223.7 69.5 L227.5 69.3 L229.8 70.7 L231.3 73.0 L232.9 75.3 L234.4 78.4 L235.5 81.5 L233.6 84.5 L230.6 84.2 L228.3 81.5 L226.7 78.4 L226.0 75.3 L224.4 72.3 Z" fill="#FF71D1" stroke="#FF71D1" stroke-width="0.7" stroke-linejoin="round"/>
<path d="M139.0 58.5 L143.5 55.8 L147.9 56.2 L152.4 56.7 L156.9 58.5 L161.4 59.8 L165.9 61.6 L170.4 64.3 L174.8 67.4 L177.5 71.0 L179.3 74.6 L180.1 78.0 L179.5 81.5 L179.0 84.9 L177.8 89.5 L176.7 93.0 L176.1 96.4 L178.4 97.0 L181.3 96.4 L183.6 98.2 L185.3 101.0 L185.9 104.5 L184.7 107.9 L183.0 109.1 L180.7 107.5 L179.0 109.5 L181.3 112.5 L183.6 116.0 L185.3 119.4 L187.0 122.9 L187.6 126.3 L187.7 130.8 L185.3 134.3 L181.7 137.3 L177.0 139.7 L172.2 142.1 L167.4 143.9 L162.6 145.7 L157.8 146.9 L153.0 147.5 L148.3 148.1 L143.5 147.7 L138.7 146.9 L134.2 145.1 L130.5 143.3 L126.7 140.9 L123.2 137.3 L119.4 133.2 L116.0 128.4 L114.6 124.0 L114.0 120.0 L113.3 115.0 L112.7 110.0 L112.8 105.0 L114.0 101.0 L116.2 97.0 L118.0 93.0 L119.2 89.1 L120.3 85.3 L122.3 82.0 L125.0 78.0 L128.5 74.0 L131.0 70.0 L134.0 66.0 L136.5 61.5 Z" fill="#F8766D" stroke="#F8766D" stroke-width="0.7" stroke-linejoin="round"/>
<path d="M191.1 192.1 L193.7 190.8 L196.4 190.1 L198.4 188.4 L199.1 185.1 L200.5 183.1 L201.1 179.4 L202.5 179.0 L203.2 181.7 L204.5 184.4 L205.8 185.8 L207.9 185.1 L210.6 184.4 L213.2 184.4 L215.9 185.8 L218.6 187.8 L220.6 190.5 L221.3 193.2 L221.3 195.8 L221.7 199.2 L220.6 201.2 L218.0 202.6 L215.3 201.9 L213.2 200.6 L213.9 199.2 L216.6 198.5 L218.6 197.2 L219.3 195.2 L218.6 193.5 L216.6 192.5 L214.6 191.8 L212.6 191.1 L210.6 191.8 L209.9 193.8 L210.6 196.5 L209.9 199.9 L208.5 200.2 L206.5 198.5 L205.2 196.5 L203.8 194.5 L201.8 194.2 L199.8 194.5 L197.1 195.2 L195.1 196.5 L193.1 196.5 L192.1 194.5 Z" fill="#CE8CFF" stroke="#CE8CFF" stroke-width="0.7" stroke-linejoin="round"/>
<path d="M163.2 152.6 L167.1 151.7 L171.9 149.7 L175.8 149.2 L180.7 150.7 L185.5 151.7 L190.4 153.6 L193.3 158.5 L194.3 162.4 L192.3 166.2 L189.4 169.2 L187.5 172.1 L186.5 176.0 L184.6 179.8 L182.6 182.8 L180.7 185.7 L177.8 186.6 L175.8 184.7 L173.9 181.8 L171.0 179.8 L168.0 178.9 L164.2 177.9 L160.3 178.9 L157.4 176.9 L154.4 175.0 L149.6 174.0 L144.7 174.0 L140.8 173.0 L140.3 171.1 L143.7 169.2 L147.6 167.2 L151.5 166.2 L154.4 164.3 L157.4 161.4 L160.3 158.5 L162.2 155.5 Z" fill="#D19E14" stroke="#D19E14" stroke-width="0.7" stroke-linejoin="round"/>
<path d="M48.9 104.3 L50.3 99.9 L53.8 95.6 L58.0 90.5 L61.5 86.2 L65.8 81.9 L69.2 76.7 L73.5 71.6 L79.5 69.0 L84.7 68.1 L89.9 70.2 L95.0 71.9 L100.2 72.9 L102.7 75.9 L103.6 81.9 L103.5 87.0 L104.5 90.6 L100.0 94.0 L97.5 96.5 L104.0 97.2 L110.5 98.2 L112.5 99.5 L110.0 100.3 L100.0 99.8 L96.0 99.5 L90.7 101.3 L83.0 102.9 L75.3 104.4 L67.7 106.0 L60.0 107.5 L50.3 107.2 Z" fill="#1AC476" stroke="#1AC476" stroke-width="0.7" stroke-linejoin="round"/>
<path d="M205.9 70.5 L207.0 67.0 L208.0 63.5 L209.5 60.5 L212.0 58.5 L215.0 57.8 L218.0 58.5 L219.2 61.0 L219.0 64.0 L218.5 66.0 L216.0 67.5 L213.0 68.5 L210.0 69.5 Z" fill="#FF71D1" stroke="#FF71D1" stroke-width="0.7" stroke-linejoin="round"/></g></g>
<rect x="385" y="22" width="237" height="226" fill="#fff" opacity="0.9" filter="url(#spk)"/>
<text x="447.5" y="66.8" font-size="5.4" fill="#111" stroke="#111" stroke-width="0.1" text-anchor="middle">Monocytes</text>
<text x="578.5" y="75.3" font-size="5.4" fill="#111" stroke="#111" stroke-width="0.1" text-anchor="middle">Fibroblasts</text>
<text x="507.5" y="115.3" font-size="5.4" fill="#111" stroke="#111" stroke-width="0.1" text-anchor="middle">T Cell</text>
<text x="576.5" y="163.3" font-size="5.4" fill="#111" stroke="#111" stroke-width="0.1" text-anchor="middle">B Cell</text>
<text x="447.5" y="160.8" font-size="5.4" fill="#111" stroke="#111" stroke-width="0.1" text-anchor="middle">Malignancy</text>
<text x="561.0" y="194.8" font-size="5.4" fill="#111" stroke="#111" stroke-width="0.1" text-anchor="middle">Hepatocytes</text>
<text x="486.4" y="194.8" font-size="5.4" fill="#111" stroke="#111" stroke-width="0.1" text-anchor="middle">Cholangiocytes</text>
<text x="452.3" y="224.3" font-size="5.4" fill="#111" stroke="#111" stroke-width="0.1" text-anchor="middle">Endothelial Cell</text>
<line x1="384.4" y1="22.0" x2="384.4" y2="249.2" stroke="#8a8a8a" stroke-width="0.9"/>
<line x1="384.4" y1="249.2" x2="622.6" y2="249.2" stroke="#8a8a8a" stroke-width="0.9"/>
<line x1="382.4" y1="73.6" x2="384.4" y2="73.6" stroke="#8a8a8a" stroke-width="0.8"/>
<text x="381.6" y="75.6" font-size="5.5" fill="#333" text-anchor="end">25</text>
<line x1="382.4" y1="131.6" x2="384.4" y2="131.6" stroke="#8a8a8a" stroke-width="0.8"/>
<text x="381.6" y="133.6" font-size="5.5" fill="#333" text-anchor="end">0</text>
<line x1="382.4" y1="189.6" x2="384.4" y2="189.6" stroke="#8a8a8a" stroke-width="0.8"/>
<text x="381.6" y="191.6" font-size="5.5" fill="#333" text-anchor="end">-25</text>
<line x1="382.4" y1="247.6" x2="384.4" y2="247.6" stroke="#8a8a8a" stroke-width="0.8"/>
<text x="381.6" y="249.6" font-size="5.5" fill="#333" text-anchor="end">-50</text>
<line x1="436.6" y1="249.2" x2="436.6" y2="251.2" stroke="#8a8a8a" stroke-width="0.8"/>
<text x="436.6" y="255.7" font-size="5.5" fill="#333" text-anchor="middle">-20</text>
<line x1="492.0" y1="249.2" x2="492.0" y2="251.2" stroke="#8a8a8a" stroke-width="0.8"/>
<text x="492.0" y="255.7" font-size="5.5" fill="#333" text-anchor="middle">0</text>
<line x1="547.4" y1="249.2" x2="547.4" y2="251.2" stroke="#8a8a8a" stroke-width="0.8"/>
<text x="547.4" y="255.7" font-size="5.5" fill="#333" text-anchor="middle">20</text>
<line x1="602.8" y1="249.2" x2="602.8" y2="251.2" stroke="#8a8a8a" stroke-width="0.8"/>
<text x="602.8" y="255.7" font-size="5.5" fill="#333" text-anchor="middle">40</text>
<text x="491" y="264.5" font-size="6.2" fill="#111" stroke="#111" stroke-width="0.12">tSNE_1</text>
<text x="0" y="0" font-size="6.2" fill="#111" stroke="#111" stroke-width="0.12" text-anchor="middle" transform="translate(372.5 136) rotate(-90)">tSNE_2</text>
<circle cx="630.9" cy="114.2" r="1.3" fill="#F8766D"/>
<text x="636.6" y="116.0" font-size="4.75" fill="#222">T Cell</text>
<circle cx="630.9" cy="120.9" r="1.3" fill="#CD9600"/>
<text x="636.6" y="122.7" font-size="4.75" fill="#222">Malignancy</text>
<circle cx="630.9" cy="127.6" r="1.3" fill="#7CAE00"/>
<text x="636.6" y="129.4" font-size="4.75" fill="#222">Cholangiocytes</text>
<circle cx="630.9" cy="134.2" r="1.3" fill="#00BE67"/>
<text x="636.6" y="136.0" font-size="4.75" fill="#222">Monocytes</text>
<circle cx="630.9" cy="140.9" r="1.3" fill="#00BFC4"/>
<text x="636.6" y="142.7" font-size="4.75" fill="#222">Endothelial Cell</text>
<circle cx="630.9" cy="147.6" r="1.3" fill="#00A9FF"/>
<text x="636.6" y="149.4" font-size="4.75" fill="#222">B Cell</text>
<circle cx="630.9" cy="154.3" r="1.3" fill="#C77CFF"/>
<text x="636.6" y="156.1" font-size="4.75" fill="#222">Hepatocytes</text>
<circle cx="630.9" cy="161.0" r="1.3" fill="#FF61CC"/>
<text x="636.6" y="162.8" font-size="4.75" fill="#222">Fibroblasts</text>
<text x="-0.5" y="319" font-size="27" fill="#000" stroke="#000" stroke-width="0.4">C</text>
<g filter="url(#rough)"><g id="gC" transform="matrix(1.0415,0,0,0.843,-3.69,294.39)"><path d="M100.2 32.4 L104.5 36.3 L108.8 40.6 L112.2 44.1 L115.6 48.4 L118.2 51.8 L120.8 55.2 L124.2 58.2 L122.5 59.9 L118.2 60.9 L112.2 62.1 L107.9 65.0 L106.2 69.9 L103.6 72.4 L98.4 72.4 L93.3 71.6 L89.0 69.9 L85.0 67.3 L81.3 65.0 L83.8 62.1 L86.1 58.7 L86.8 54.4 L89.9 50.9 L92.4 45.8 L94.7 40.6 L96.7 37.2 Z" fill="#C8C6DA" stroke="#C8C6DA" stroke-width="0.7" stroke-linejoin="round"/>
<path d="M120.8 48.4 L125.9 45.8 L131.1 43.7 L136.3 42.3 L139.7 42.0 L138.8 44.9 L134.5 47.5 L131.1 50.9 L127.7 53.5 L124.2 52.7 L121.7 50.9 Z" fill="#C8C6DA" stroke="#C8C6DA" stroke-width="0.7" stroke-linejoin="round"/>
<path d="M144.9 36.3 L147.4 32.9 L151.7 30.7 L155.0 30.0 L155.0 45.8 L151.7 44.1 L149.2 41.5 L145.7 39.8 Z" fill="#CCCADA" stroke="#CCCADA" stroke-width="0.7" stroke-linejoin="round"/>
<path d="M136.3 42.0 L141.4 39.3 L145.2 37.2 L145.7 38.9 L141.8 41.0 L137.1 43.4 Z" fill="#CCCADA" stroke="#CCCADA" stroke-width="0.7" stroke-linejoin="round"/>
<path d="M109.6 80.2 L111.9 79.8 L113.1 81.5 L110.8 82.9 Z" fill="#D6D6DA" stroke="#D6D6DA" stroke-width="0.7" stroke-linejoin="round"/>
<path d="M107.9 78.4 L110.1 78.1 L110.5 79.8 L108.4 80.2 Z" fill="#D2D0DE" stroke="#D2D0DE" stroke-width="0.7" stroke-linejoin="round"/>
<path d="M155.0 31.2 L158.4 30.3 L162.7 31.2 L164.5 33.8 L166.2 37.2 L165.3 41.5 L163.6 44.9 L162.7 48.4 L161.0 50.9 L158.4 50.1 L155.0 48.4 Z" fill="#CCCADA" stroke="#CCCADA" stroke-width="0.7" stroke-linejoin="round"/>
<path d="M164.5 46.6 L170.5 49.6 L175.6 51.8 L175.3 53.5 L169.6 51.3 L163.9 48.9 Z" fill="#CCCADA" stroke="#CCCADA" stroke-width="0.7" stroke-linejoin="round"/>
<path d="M177.0 37.5 L179.9 38.0 L182.2 39.8 L180.8 41.0 L177.7 39.3 Z" fill="#D6D6DA" stroke="#D6D6DA" stroke-width="0.7" stroke-linejoin="round"/>
<path d="M170.8 50.6 L175.6 52.0 L179.1 52.7 L183.4 52.3 L183.9 54.0 L179.1 54.4 L175.3 53.7 L170.5 52.0 Z" fill="#D6D6DA" stroke="#D6D6DA" stroke-width="0.7" stroke-linejoin="round"/>
<path d="M99.3 111.2 L102.7 110.0 L106.2 111.7 L104.5 113.8 L101.0 113.4 Z" fill="#D2D0DE" stroke="#D2D0DE" stroke-width="0.7" stroke-linejoin="round"/>
<path d="M107.9 135.2 L110.5 132.7 L113.9 133.0 L115.6 136.1 L118.2 140.4 L120.8 143.0 L118.2 144.3 L113.9 142.6 L109.6 142.1 L107.9 139.5 Z" fill="#D6D6DA" stroke="#D6D6DA" stroke-width="0.7" stroke-linejoin="round"/>
<path d="M192.8 138.7 L196.3 138.2 L198.8 139.9 L203.1 141.3 L208.3 142.1 L213.4 142.6 L217.7 144.7 L216.0 147.3 L211.7 147.8 L207.4 149.9 L203.1 150.7 L199.7 149.0 L196.3 146.1 L194.2 143.0 Z" fill="#D6D6DA" stroke="#D6D6DA" stroke-width="0.7" stroke-linejoin="round"/>
<path d="M213.4 162.7 L218.6 160.2 L225.5 159.3 L234.1 158.8 L242.7 159.0 L249.5 160.2 L246.1 163.6 L240.9 166.2 L234.1 167.9 L227.2 168.4 L222.0 167.9 L216.9 166.2 Z" fill="#D6D6DA" stroke="#D6D6DA" stroke-width="0.7" stroke-linejoin="round"/>
<path d="M225.5 155.9 L227.2 150.7 L228.9 151.6 L230.6 155.0 L232.4 156.7 L228.9 156.7 Z" fill="#D6D6DA" stroke="#D6D6DA" stroke-width="0.7" stroke-linejoin="round"/>
<path d="M82.1 218.7 L84.7 215.2 L89.0 213.5 L93.3 212.7 L98.4 211.8 L101.9 212.7 L105.3 214.4 L108.8 215.2 L112.2 214.4 L115.6 213.5 L119.9 214.0 L122.5 217.0 L123.4 221.3 L124.2 225.6 L126.8 229.9 L130.2 235.0 L127.7 236.7 L120.8 236.7 L115.6 235.9 L113.1 233.3 L111.3 229.9 L107.9 227.3 L103.6 226.4 L98.4 225.6 L93.3 224.3 L89.0 223.0 L84.7 221.3 Z" fill="#D2D0DE" stroke="#D2D0DE" stroke-width="0.7" stroke-linejoin="round"/>
<path d="M78.2 200.6 L80.9 201.0 L81.6 202.7 L78.8 202.3 Z" fill="#D2D0DE" stroke="#D2D0DE" stroke-width="0.7" stroke-linejoin="round"/>
<path d="M176.5 214.0 L179.9 215.2 L182.5 216.1 L182.2 217.5 L179.4 216.6 L176.0 215.1 Z" fill="#D6D6DA" stroke="#D6D6DA" stroke-width="0.7" stroke-linejoin="round"/>
<path d="M49.2 133.0 L52.3 129.9 L56.9 129.2 L59.9 126.9 L64.5 124.6 L70.7 123.0 L76.8 120.7 L82.9 119.2 L89.0 117.7 L95.2 118.4 L98.2 120.0 L101.3 125.3 L103.0 128.4 L104.0 133.0 L104.6 137.6 L104.8 142.2 L104.5 146.8 L107.0 149.6 L112.0 148.3 L117.0 149.0 L122.5 149.9 L127.7 149.0 L131.1 149.9 L133.7 151.6 L138.0 155.0 L143.1 156.7 L150.0 155.0 L155.0 154.2 L160.1 153.5 L165.3 152.2 L173.0 150.8 L180.0 152.0 L186.0 155.0 L188.0 162.0 L186.0 170.0 L182.0 177.0 L178.0 182.5 L174.0 183.5 L170.4 182.5 L166.5 180.8 L160.1 178.1 L152.4 175.4 L144.7 174.0 L137.0 172.6 L129.3 169.9 L121.6 167.2 L116.5 167.2 L108.8 169.9 L102.3 174.0 L97.2 179.4 L90.8 183.5 L85.6 184.9 L77.9 183.5 L72.8 182.2 L65.1 180.8 L60.0 178.1 L56.1 174.0 L53.5 168.5 L54.8 160.4 L53.5 152.2 L52.3 144.0 L51.0 138.5 Z" fill="#D3D1DF" stroke="#D3D1DF" stroke-width="0.7" stroke-linejoin="round"/>
<path d="M56.5 174.5 L59.0 173.5 L61.5 175.5 L60.5 179.0 L57.5 179.5 Z" fill="#D3D1DF" stroke="#D3D1DF" stroke-width="0.7" stroke-linejoin="round"/>
<path d="M88.2 186.3 L93.4 183.5 L99.8 178.1 L104.9 174.0 L111.3 169.9 L119.0 168.0 L126.7 169.9 L134.4 173.4 L142.1 175.4 L149.8 178.1 L157.6 180.8 L165.3 183.5 L170.4 187.6 L173.4 191.8 L175.2 195.4 L174.3 199.0 L173.4 201.7 L171.6 204.3 L174.3 206.1 L176.1 207.9 L173.4 209.7 L171.6 211.5 L170.7 214.2 L168.9 215.1 L164.5 213.3 L160.9 212.4 L159.1 210.6 L160.0 207.9 L159.1 206.1 L157.3 207.0 L155.9 209.7 L154.6 213.3 L151.9 216.0 L148.3 218.3 L144.7 219.1 L141.1 218.7 L137.6 216.9 L134.9 214.2 L134.0 211.5 L134.0 207.9 L131.3 203.5 L128.6 200.8 L125.0 198.5 L123.0 199.0 L120.8 203.0 L115.6 204.9 L111.3 204.1 L110.5 200.6 L109.6 197.2 L103.6 196.3 L96.7 195.5 L91.6 192.9 L88.1 190.3 Z" fill="#D6D6DB" stroke="#D6D6DB" stroke-width="0.7" stroke-linejoin="round"/>
<path d="M183.1 80.7 L186.1 79.9 L190.7 81.5 L195.3 83.0 L199.9 85.3 L203.0 84.5 L205.3 83.0 L206.8 85.3 L210.7 86.8 L213.7 87.6 L211.4 89.1 L207.6 90.7 L204.5 93.0 L206.8 96.0 L210.7 97.5 L215.2 96.8 L219.8 97.5 L224.4 98.3 L229.0 99.8 L233.6 102.1 L239.8 106.0 L245.9 108.3 L252.0 110.6 L255.9 113.6 L253.6 116.7 L249.0 118.2 L244.4 120.5 L239.8 121.3 L236.7 122.8 L235.2 127.4 L233.6 132.0 L232.1 135.9 L229.0 137.4 L226.0 135.9 L221.4 133.6 L216.8 132.0 L212.2 129.7 L209.9 125.9 L206.1 123.6 L201.5 121.3 L198.4 118.2 L196.9 115.2 L195.3 110.6 L194.6 106.0 L193.8 101.4 L194.6 96.8 L192.3 92.2 L189.2 87.6 L186.1 84.5 L183.1 83.0 Z" fill="#D9D9DD" stroke="#D9D9DD" stroke-width="0.7" stroke-linejoin="round"/>
<path d="M190.3 41.5 L191.5 43.9 L192.1 46.9 L191.8 50.5 L191.3 53.5 L189.7 57.1 L188.5 59.5 L187.3 58.3 L186.1 55.9 L184.9 54.1 L183.2 53.5 L184.3 51.7 L183.8 48.7 L184.1 46.3 L186.1 44.5 L188.5 43.3 Z" fill="#D6D6DA" stroke="#D6D6DA" stroke-width="0.7" stroke-linejoin="round"/>
<path d="M177.2 37.9 L179.6 38.5 L182.0 40.3 L180.8 40.9 L177.8 39.7 Z" fill="#D6D6DA" stroke="#D6D6DA" stroke-width="0.7" stroke-linejoin="round"/>
<path d="M170.0 49.3 L172.4 50.5 L174.8 51.7 L176.0 53.5 L174.2 53.7 L171.8 52.3 L170.0 51.1 Z" fill="#D6D6DA" stroke="#D6D6DA" stroke-width="0.7" stroke-linejoin="round"/>
<path d="M179.0 54.7 L181.4 53.5 L183.8 52.9 L184.3 54.1 L182.0 54.9 L179.6 55.6 Z" fill="#D6D6DA" stroke="#D6D6DA" stroke-width="0.7" stroke-linejoin="round"/>
<path d="M217.2 65.2 L221.4 67.8 L225.2 69.7 L224.8 71.4 L220.8 69.6 L216.9 67.1 Z" fill="#D6D6DA" stroke="#D6D6DA" stroke-width="0.7" stroke-linejoin="round"/>
<path d="M223.7 69.5 L227.5 69.3 L229.8 70.7 L231.3 73.0 L232.9 75.3 L234.4 78.4 L235.5 81.5 L233.6 84.5 L230.6 84.2 L228.3 81.5 L226.7 78.4 L226.0 75.3 L224.4 72.3 Z" fill="#D6D6DA" stroke="#D6D6DA" stroke-width="0.7" stroke-linejoin="round"/>
<path d="M139.0 58.5 L143.5 55.8 L147.9 56.2 L152.4 56.7 L156.9 58.5 L161.4 59.8 L165.9 61.6 L170.4 64.3 L174.8 67.4 L177.5 71.0 L179.3 74.6 L180.1 78.0 L179.5 81.5 L179.0 84.9 L177.8 89.5 L176.7 93.0 L176.1 96.4 L178.4 97.0 L181.3 96.4 L183.6 98.2 L185.3 101.0 L185.9 104.5 L184.7 107.9 L183.0 109.1 L180.7 107.5 L179.0 109.5 L181.3 112.5 L183.6 116.0 L185.3 119.4 L187.0 122.9 L187.6 126.3 L187.7 130.8 L185.3 134.3 L181.7 137.3 L177.0 139.7 L172.2 142.1 L167.4 143.9 L162.6 145.7 L157.8 146.9 L153.0 147.5 L148.3 148.1 L143.5 147.7 L138.7 146.9 L134.2 145.1 L130.5 143.3 L126.7 140.9 L123.2 137.3 L119.4 133.2 L116.0 128.4 L114.6 124.0 L114.0 120.0 L113.3 115.0 L112.7 110.0 L112.8 105.0 L114.0 101.0 L116.2 97.0 L118.0 93.0 L119.2 89.1 L120.3 85.3 L122.3 82.0 L125.0 78.0 L128.5 74.0 L131.0 70.0 L134.0 66.0 L136.5 61.5 Z" fill="#CDCDCE" stroke="#CDCDCE" stroke-width="0.7" stroke-linejoin="round"/>
<path d="M191.1 192.1 L193.7 190.8 L196.4 190.1 L198.4 188.4 L199.1 185.1 L200.5 183.1 L201.1 179.4 L202.5 179.0 L203.2 181.7 L204.5 184.4 L205.8 185.8 L207.9 185.1 L210.6 184.4 L213.2 184.4 L215.9 185.8 L218.6 187.8 L220.6 190.5 L221.3 193.2 L221.3 195.8 L221.7 199.2 L220.6 201.2 L218.0 202.6 L215.3 201.9 L213.2 200.6 L213.9 199.2 L216.6 198.5 L218.6 197.2 L219.3 195.2 L218.6 193.5 L216.6 192.5 L214.6 191.8 L212.6 191.1 L210.6 191.8 L209.9 193.8 L210.6 196.5 L209.9 199.9 L208.5 200.2 L206.5 198.5 L205.2 196.5 L203.8 194.5 L201.8 194.2 L199.8 194.5 L197.1 195.2 L195.1 196.5 L193.1 196.5 L192.1 194.5 Z" fill="#D6D6DA" stroke="#D6D6DA" stroke-width="0.7" stroke-linejoin="round"/>
<path d="M163.2 152.6 L167.1 151.7 L171.9 149.7 L175.8 149.2 L180.7 150.7 L185.5 151.7 L190.4 153.6 L193.3 158.5 L194.3 162.4 L192.3 166.2 L189.4 169.2 L187.5 172.1 L186.5 176.0 L184.6 179.8 L182.6 182.8 L180.7 185.7 L177.8 186.6 L175.8 184.7 L173.9 181.8 L171.0 179.8 L168.0 178.9 L164.2 177.9 L160.3 178.9 L157.4 176.9 L154.4 175.0 L149.6 174.0 L144.7 174.0 L140.8 173.0 L140.3 171.1 L143.7 169.2 L147.6 167.2 L151.5 166.2 L154.4 164.3 L157.4 161.4 L160.3 158.5 L162.2 155.5 Z" fill="#D5D4DC" stroke="#D5D4DC" stroke-width="0.7" stroke-linejoin="round"/>
<path d="M48.9 104.3 L50.3 99.9 L53.8 95.6 L58.0 90.5 L61.5 86.2 L65.8 81.9 L69.2 76.7 L73.5 71.6 L79.5 69.0 L84.7 68.1 L89.9 70.2 L95.0 71.9 L100.2 72.9 L102.7 75.9 L103.6 81.9 L103.5 87.0 L104.5 90.6 L100.0 94.0 L97.5 96.5 L104.0 97.2 L110.5 98.2 L112.5 99.5 L110.0 100.3 L100.0 99.8 L96.0 99.5 L90.7 101.3 L83.0 102.9 L75.3 104.4 L67.7 106.0 L60.0 107.5 L50.3 107.2 Z" fill="#CCCADA" stroke="#CCCADA" stroke-width="0.7" stroke-linejoin="round"/>
<path d="M205.9 70.5 L207.0 67.0 L208.0 63.5 L209.5 60.5 L212.0 58.5 L215.0 57.8 L218.0 58.5 L219.2 61.0 L219.0 64.0 L218.5 66.0 L216.0 67.5 L213.0 68.5 L210.0 69.5 Z" fill="#D6D6DA" stroke="#D6D6DA" stroke-width="0.7" stroke-linejoin="round"/></g>
<rect x="35" y="310" width="239" height="196" fill="#fff" opacity="0.75" filter="url(#spkc)"/>
<defs><clipPath id="clip_pa"><path transform="matrix(1.0415,0,0,0.843,-3.69,294.39)" d="M100.2 32.4 L104.5 36.3 L108.8 40.6 L112.2 44.1 L115.6 48.4 L118.2 51.8 L120.8 55.2 L124.2 58.2 L122.5 59.9 L118.2 60.9 L112.2 62.1 L107.9 65.0 L106.2 69.9 L103.6 72.4 L98.4 72.4 L93.3 71.6 L89.0 69.9 L85.0 67.3 L81.3 65.0 L83.8 62.1 L86.1 58.7 L86.8 54.4 L89.9 50.9 L92.4 45.8 L94.7 40.6 L96.7 37.2 Z"/><path transform="matrix(1.0415,0,0,0.843,-3.69,294.39)" d="M120.8 48.4 L125.9 45.8 L131.1 43.7 L136.3 42.3 L139.7 42.0 L138.8 44.9 L134.5 47.5 L131.1 50.9 L127.7 53.5 L124.2 52.7 L121.7 50.9 Z"/><path transform="matrix(1.0415,0,0,0.843,-3.69,294.39)" d="M144.9 36.3 L147.4 32.9 L151.7 30.7 L155.0 30.0 L155.0 45.8 L151.7 44.1 L149.2 41.5 L145.7 39.8 Z"/><path transform="matrix(1.0415,0,0,0.843,-3.69,294.39)" d="M136.3 42.0 L141.4 39.3 L145.2 37.2 L145.7 38.9 L141.8 41.0 L137.1 43.4 Z"/><path transform="matrix(1.0415,0,0,0.843,-3.69,294.39)" d="M109.6 80.2 L111.9 79.8 L113.1 81.5 L110.8 82.9 Z"/><path transform="matrix(1.0415,0,0,0.843,-3.69,294.39)" d="M107.9 78.4 L110.1 78.1 L110.5 79.8 L108.4 80.2 Z"/><path transform="matrix(1.0415,0,0,0.843,-3.69,294.39)" d="M155.0 31.2 L158.4 30.3 L162.7 31.2 L164.5 33.8 L166.2 37.2 L165.3 41.5 L163.6 44.9 L162.7 48.4 L161.0 50.9 L158.4 50.1 L155.0 48.4 Z"/><path transform="matrix(1.0415,0,0,0.843,-3.69,294.39)" d="M164.5 46.6 L170.5 49.6 L175.6 51.8 L175.3 53.5 L169.6 51.3 L163.9 48.9 Z"/><path transform="matrix(1.0415,0,0,0.843,-3.69,294.39)" d="M177.0 37.5 L179.9 38.0 L182.2 39.8 L180.8 41.0 L177.7 39.3 Z"/><path transform="matrix(1.0415,0,0,0.843,-3.69,294.39)" d="M170.8 50.6 L175.6 52.0 L179.1 52.7 L183.4 52.3 L183.9 54.0 L179.1 54.4 L175.3 53.7 L170.5 52.0 Z"/><path transform="matrix(1.0415,0,0,0.843,-3.69,294.39)" d="M99.3 111.2 L102.7 110.0 L106.2 111.7 L104.5 113.8 L101.0 113.4 Z"/><path transform="matrix(1.0415,0,0,0.843,-3.69,294.39)" d="M107.9 135.2 L110.5 132.7 L113.9 133.0 L115.6 136.1 L118.2 140.4 L120.8 143.0 L118.2 144.3 L113.9 142.6 L109.6 142.1 L107.9 139.5 Z"/><path transform="matrix(1.0415,0,0,0.843,-3.69,294.39)" d="M192.8 138.7 L196.3 138.2 L198.8 139.9 L203.1 141.3 L208.3 142.1 L213.4 142.6 L217.7 144.7 L216.0 147.3 L211.7 147.8 L207.4 149.9 L203.1 150.7 L199.7 149.0 L196.3 146.1 L194.2 143.0 Z"/><path transform="matrix(1.0415,0,0,0.843,-3.69,294.39)" d="M213.4 162.7 L218.6 160.2 L225.5 159.3 L234.1 158.8 L242.7 159.0 L249.5 160.2 L246.1 163.6 L240.9 166.2 L234.1 167.9 L227.2 168.4 L222.0 167.9 L216.9 166.2 Z"/><path transform="matrix(1.0415,0,0,0.843,-3.69,294.39)" d="M225.5 155.9 L227.2 150.7 L228.9 151.6 L230.6 155.0 L232.4 156.7 L228.9 156.7 Z"/><path transform="matrix(1.0415,0,0,0.843,-3.69,294.39)" d="M82.1 218.7 L84.7 215.2 L89.0 213.5 L93.3 212.7 L98.4 211.8 L101.9 212.7 L105.3 214.4 L108.8 215.2 L112.2 214.4 L115.6 213.5 L119.9 214.0 L122.5 217.0 L123.4 221.3 L124.2 225.6 L126.8 229.9 L130.2 235.0 L127.7 236.7 L120.8 236.7 L115.6 235.9 L113.1 233.3 L111.3 229.9 L107.9 227.3 L103.6 226.4 L98.4 225.6 L93.3 224.3 L89.0 223.0 L84.7 221.3 Z"/><path transform="matrix(1.0415,0,0,0.843,-3.69,294.39)" d="M78.2 200.6 L80.9 201.0 L81.6 202.7 L78.8 202.3 Z"/><path transform="matrix(1.0415,0,0,0.843,-3.69,294.39)" d="M176.5 214.0 L179.9 215.2 L182.5 216.1 L182.2 217.5 L179.4 216.6 L176.0 215.1 Z"/><path transform="matrix(1.0415,0,0,0.843,-3.69,294.39)" d="M49.2 133.0 L52.3 129.9 L56.9 129.2 L59.9 126.9 L64.5 124.6 L70.7 123.0 L76.8 120.7 L82.9 119.2 L89.0 117.7 L95.2 118.4 L98.2 120.0 L101.3 125.3 L103.0 128.4 L104.0 133.0 L104.6 137.6 L104.8 142.2 L104.5 146.8 L107.0 149.6 L112.0 148.3 L117.0 149.0 L122.5 149.9 L127.7 149.0 L131.1 149.9 L133.7 151.6 L138.0 155.0 L143.1 156.7 L150.0 155.0 L155.0 154.2 L160.1 153.5 L165.3 152.2 L173.0 150.8 L180.0 152.0 L186.0 155.0 L188.0 162.0 L186.0 170.0 L182.0 177.0 L178.0 182.5 L174.0 183.5 L170.4 182.5 L166.5 180.8 L160.1 178.1 L152.4 175.4 L144.7 174.0 L137.0 172.6 L129.3 169.9 L121.6 167.2 L116.5 167.2 L108.8 169.9 L102.3 174.0 L97.2 179.4 L90.8 183.5 L85.6 184.9 L77.9 183.5 L72.8 182.2 L65.1 180.8 L60.0 178.1 L56.1 174.0 L53.5 168.5 L54.8 160.4 L53.5 152.2 L52.3 144.0 L51.0 138.5 Z"/><path transform="matrix(1.0415,0,0,0.843,-3.69,294.39)" d="M56.5 174.5 L59.0 173.5 L61.5 175.5 L60.5 179.0 L57.5 179.5 Z"/><path transform="matrix(1.0415,0,0,0.843,-3.69,294.39)" d="M88.2 186.3 L93.4 183.5 L99.8 178.1 L104.9 174.0 L111.3 169.9 L119.0 168.0 L126.7 169.9 L134.4 173.4 L142.1 175.4 L149.8 178.1 L157.6 180.8 L165.3 183.5 L170.4 187.6 L173.4 191.8 L175.2 195.4 L174.3 199.0 L173.4 201.7 L171.6 204.3 L174.3 206.1 L176.1 207.9 L173.4 209.7 L171.6 211.5 L170.7 214.2 L168.9 215.1 L164.5 213.3 L160.9 212.4 L159.1 210.6 L160.0 207.9 L159.1 206.1 L157.3 207.0 L155.9 209.7 L154.6 213.3 L151.9 216.0 L148.3 218.3 L144.7 219.1 L141.1 218.7 L137.6 216.9 L134.9 214.2 L134.0 211.5 L134.0 207.9 L131.3 203.5 L128.6 200.8 L125.0 198.5 L123.0 199.0 L120.8 203.0 L115.6 204.9 L111.3 204.1 L110.5 200.6 L109.6 197.2 L103.6 196.3 L96.7 195.5 L91.6 192.9 L88.1 190.3 Z"/><path transform="matrix(1.0415,0,0,0.843,-3.69,294.39)" d="M183.1 80.7 L186.1 79.9 L190.7 81.5 L195.3 83.0 L199.9 85.3 L203.0 84.5 L205.3 83.0 L206.8 85.3 L210.7 86.8 L213.7 87.6 L211.4 89.1 L207.6 90.7 L204.5 93.0 L206.8 96.0 L210.7 97.5 L215.2 96.8 L219.8 97.5 L224.4 98.3 L229.0 99.8 L233.6 102.1 L239.8 106.0 L245.9 108.3 L252.0 110.6 L255.9 113.6 L253.6 116.7 L249.0 118.2 L244.4 120.5 L239.8 121.3 L236.7 122.8 L235.2 127.4 L233.6 132.0 L232.1 135.9 L229.0 137.4 L226.0 135.9 L221.4 133.6 L216.8 132.0 L212.2 129.7 L209.9 125.9 L206.1 123.6 L201.5 121.3 L198.4 118.2 L196.9 115.2 L195.3 110.6 L194.6 106.0 L193.8 101.4 L194.6 96.8 L192.3 92.2 L189.2 87.6 L186.1 84.5 L183.1 83.0 Z"/><path transform="matrix(1.0415,0,0,0.843,-3.69,294.39)" d="M190.3 41.5 L191.5 43.9 L192.1 46.9 L191.8 50.5 L191.3 53.5 L189.7 57.1 L188.5 59.5 L187.3 58.3 L186.1 55.9 L184.9 54.1 L183.2 53.5 L184.3 51.7 L183.8 48.7 L184.1 46.3 L186.1 44.5 L188.5 43.3 Z"/><path transform="matrix(1.0415,0,0,0.843,-3.69,294.39)" d="M177.2 37.9 L179.6 38.5 L182.0 40.3 L180.8 40.9 L177.8 39.7 Z"/><path transform="matrix(1.0415,0,0,0.843,-3.69,294.39)" d="M170.0 49.3 L172.4 50.5 L174.8 51.7 L176.0 53.5 L174.2 53.7 L171.8 52.3 L170.0 51.1 Z"/><path transform="matrix(1.0415,0,0,0.843,-3.69,294.39)" d="M179.0 54.7 L181.4 53.5 L183.8 52.9 L184.3 54.1 L182.0 54.9 L179.6 55.6 Z"/><path transform="matrix(1.0415,0,0,0.843,-3.69,294.39)" d="M217.2 65.2 L221.4 67.8 L225.2 69.7 L224.8 71.4 L220.8 69.6 L216.9 67.1 Z"/><path transform="matrix(1.0415,0,0,0.843,-3.69,294.39)" d="M223.7 69.5 L227.5 69.3 L229.8 70.7 L231.3 73.0 L232.9 75.3 L234.4 78.4 L235.5 81.5 L233.6 84.5 L230.6 84.2 L228.3 81.5 L226.7 78.4 L226.0 75.3 L224.4 72.3 Z"/><path transform="matrix(1.0415,0,0,0.843,-3.69,294.39)" d="M191.1 192.1 L193.7 190.8 L196.4 190.1 L198.4 188.4 L199.1 185.1 L200.5 183.1 L201.1 179.4 L202.5 179.0 L203.2 181.7 L204.5 184.4 L205.8 185.8 L207.9 185.1 L210.6 184.4 L213.2 184.4 L215.9 185.8 L218.6 187.8 L220.6 190.5 L221.3 193.2 L221.3 195.8 L221.7 199.2 L220.6 201.2 L218.0 202.6 L215.3 201.9 L213.2 200.6 L213.9 199.2 L216.6 198.5 L218.6 197.2 L219.3 195.2 L218.6 193.5 L216.6 192.5 L214.6 191.8 L212.6 191.1 L210.6 191.8 L209.9 193.8 L210.6 196.5 L209.9 199.9 L208.5 200.2 L206.5 198.5 L205.2 196.5 L203.8 194.5 L201.8 194.2 L199.8 194.5 L197.1 195.2 L195.1 196.5 L193.1 196.5 L192.1 194.5 Z"/><path transform="matrix(1.0415,0,0,0.843,-3.69,294.39)" d="M163.2 152.6 L167.1 151.7 L171.9 149.7 L175.8 149.2 L180.7 150.7 L185.5 151.7 L190.4 153.6 L193.3 158.5 L194.3 162.4 L192.3 166.2 L189.4 169.2 L187.5 172.1 L186.5 176.0 L184.6 179.8 L182.6 182.8 L180.7 185.7 L177.8 186.6 L175.8 184.7 L173.9 181.8 L171.0 179.8 L168.0 178.9 L164.2 177.9 L160.3 178.9 L157.4 176.9 L154.4 175.0 L149.6 174.0 L144.7 174.0 L140.8 173.0 L140.3 171.1 L143.7 169.2 L147.6 167.2 L151.5 166.2 L154.4 164.3 L157.4 161.4 L160.3 158.5 L162.2 155.5 Z"/><path transform="matrix(1.0415,0,0,0.843,-3.69,294.39)" d="M48.9 104.3 L50.3 99.9 L53.8 95.6 L58.0 90.5 L61.5 86.2 L65.8 81.9 L69.2 76.7 L73.5 71.6 L79.5 69.0 L84.7 68.1 L89.9 70.2 L95.0 71.9 L100.2 72.9 L102.7 75.9 L103.6 81.9 L103.5 87.0 L104.5 90.6 L100.0 94.0 L97.5 96.5 L104.0 97.2 L110.5 98.2 L112.5 99.5 L110.0 100.3 L100.0 99.8 L96.0 99.5 L90.7 101.3 L83.0 102.9 L75.3 104.4 L67.7 106.0 L60.0 107.5 L50.3 107.2 Z"/><path transform="matrix(1.0415,0,0,0.843,-3.69,294.39)" d="M205.9 70.5 L207.0 67.0 L208.0 63.5 L209.5 60.5 L212.0 58.5 L215.0 57.8 L218.0 58.5 L219.2 61.0 L219.0 64.0 L218.5 66.0 L216.0 67.5 L213.0 68.5 L210.0 69.5 Z"/></clipPath></defs>
<g clip-path="url(#clip_pa)"><rect x="35" y="310" width="239" height="196" fill="#fff" opacity="0.8" filter="url(#pa)"/></g>
<defs><clipPath id="clip_pb"><path transform="matrix(1.0415,0,0,0.843,-3.69,294.39)" d="M100.2 32.4 L104.5 36.3 L108.8 40.6 L112.2 44.1 L115.6 48.4 L118.2 51.8 L120.8 55.2 L124.2 58.2 L122.5 59.9 L118.2 60.9 L112.2 62.1 L107.9 65.0 L106.2 69.9 L103.6 72.4 L98.4 72.4 L93.3 71.6 L89.0 69.9 L85.0 67.3 L81.3 65.0 L83.8 62.1 L86.1 58.7 L86.8 54.4 L89.9 50.9 L92.4 45.8 L94.7 40.6 L96.7 37.2 Z"/><path transform="matrix(1.0415,0,0,0.843,-3.69,294.39)" d="M120.8 48.4 L125.9 45.8 L131.1 43.7 L136.3 42.3 L139.7 42.0 L138.8 44.9 L134.5 47.5 L131.1 50.9 L127.7 53.5 L124.2 52.7 L121.7 50.9 Z"/><path transform="matrix(1.0415,0,0,0.843,-3.69,294.39)" d="M144.9 36.3 L147.4 32.9 L151.7 30.7 L155.0 30.0 L155.0 45.8 L151.7 44.1 L149.2 41.5 L145.7 39.8 Z"/><path transform="matrix(1.0415,0,0,0.843,-3.69,294.39)" d="M136.3 42.0 L141.4 39.3 L145.2 37.2 L145.7 38.9 L141.8 41.0 L137.1 43.4 Z"/><path transform="matrix(1.0415,0,0,0.843,-3.69,294.39)" d="M107.9 78.4 L110.1 78.1 L110.5 79.8 L108.4 80.2 Z"/><path transform="matrix(1.0415,0,0,0.843,-3.69,294.39)" d="M155.0 31.2 L158.4 30.3 L162.7 31.2 L164.5 33.8 L166.2 37.2 L165.3 41.5 L163.6 44.9 L162.7 48.4 L161.0 50.9 L158.4 50.1 L155.0 48.4 Z"/><path transform="matrix(1.0415,0,0,0.843,-3.69,294.39)" d="M164.5 46.6 L170.5 49.6 L175.6 51.8 L175.3 53.5 L169.6 51.3 L163.9 48.9 Z"/><path transform="matrix(1.0415,0,0,0.843,-3.69,294.39)" d="M99.3 111.2 L102.7 110.0 L106.2 111.7 L104.5 113.8 L101.0 113.4 Z"/><path transform="matrix(1.0415,0,0,0.843,-3.69,294.39)" d="M82.1 218.7 L84.7 215.2 L89.0 213.5 L93.3 212.7 L98.4 211.8 L101.9 212.7 L105.3 214.4 L108.8 215.2 L112.2 214.4 L115.6 213.5 L119.9 214.0 L122.5 217.0 L123.4 221.3 L124.2 225.6 L126.8 229.9 L130.2 235.0 L127.7 236.7 L120.8 236.7 L115.6 235.9 L113.1 233.3 L111.3 229.9 L107.9 227.3 L103.6 226.4 L98.4 225.6 L93.3 224.3 L89.0 223.0 L84.7 221.3 Z"/><path transform="matrix(1.0415,0,0,0.843,-3.69,294.39)" d="M78.2 200.6 L80.9 201.0 L81.6 202.7 L78.8 202.3 Z"/><path transform="matrix(1.0415,0,0,0.843,-3.69,294.39)" d="M49.2 133.0 L52.3 129.9 L56.9 129.2 L59.9 126.9 L64.5 124.6 L70.7 123.0 L76.8 120.7 L82.9 119.2 L89.0 117.7 L95.2 118.4 L98.2 120.0 L101.3 125.3 L103.0 128.4 L104.0 133.0 L104.6 137.6 L104.8 142.2 L104.5 146.8 L107.0 149.6 L112.0 148.3 L117.0 149.0 L122.5 149.9 L127.7 149.0 L131.1 149.9 L133.7 151.6 L138.0 155.0 L143.1 156.7 L150.0 155.0 L155.0 154.2 L160.1 153.5 L165.3 152.2 L173.0 150.8 L180.0 152.0 L186.0 155.0 L188.0 162.0 L186.0 170.0 L182.0 177.0 L178.0 182.5 L174.0 183.5 L170.4 182.5 L166.5 180.8 L160.1 178.1 L152.4 175.4 L144.7 174.0 L137.0 172.6 L129.3 169.9 L121.6 167.2 L116.5 167.2 L108.8 169.9 L102.3 174.0 L97.2 179.4 L90.8 183.5 L85.6 184.9 L77.9 183.5 L72.8 182.2 L65.1 180.8 L60.0 178.1 L56.1 174.0 L53.5 168.5 L54.8 160.4 L53.5 152.2 L52.3 144.0 L51.0 138.5 Z"/><path transform="matrix(1.0415,0,0,0.843,-3.69,294.39)" d="M56.5 174.5 L59.0 173.5 L61.5 175.5 L60.5 179.0 L57.5 179.5 Z"/><path transform="matrix(1.0415,0,0,0.843,-3.69,294.39)" d="M48.9 104.3 L50.3 99.9 L53.8 95.6 L58.0 90.5 L61.5 86.2 L65.8 81.9 L69.2 76.7 L73.5 71.6 L79.5 69.0 L84.7 68.1 L89.9 70.2 L95.0 71.9 L100.2 72.9 L102.7 75.9 L103.6 81.9 L103.5 87.0 L104.5 90.6 L100.0 94.0 L97.5 96.5 L104.0 97.2 L110.5 98.2 L112.5 99.5 L110.0 100.3 L100.0 99.8 L96.0 99.5 L90.7 101.3 L83.0 102.9 L75.3 104.4 L67.7 106.0 L60.0 107.5 L50.3 107.2 Z"/></clipPath></defs>
<g clip-path="url(#clip_pb)"><rect x="35" y="310" width="239" height="196" fill="#fff" opacity="0.85" filter="url(#pb)"/></g>
<defs><clipPath id="clip_pc"><path transform="matrix(1.0415,0,0,0.843,-3.69,294.39)" d="M139.0 58.5 L143.5 55.8 L147.9 56.2 L152.4 56.7 L156.9 58.5 L161.4 59.8 L165.9 61.6 L170.4 64.3 L174.8 67.4 L177.5 71.0 L179.3 74.6 L180.1 78.0 L179.5 81.5 L179.0 84.9 L177.8 89.5 L176.7 93.0 L176.1 96.4 L178.4 97.0 L181.3 96.4 L183.6 98.2 L185.3 101.0 L185.9 104.5 L184.7 107.9 L183.0 109.1 L180.7 107.5 L179.0 109.5 L181.3 112.5 L183.6 116.0 L185.3 119.4 L187.0 122.9 L187.6 126.3 L187.7 130.8 L185.3 134.3 L181.7 137.3 L177.0 139.7 L172.2 142.1 L167.4 143.9 L162.6 145.7 L157.8 146.9 L153.0 147.5 L148.3 148.1 L143.5 147.7 L138.7 146.9 L134.2 145.1 L130.5 143.3 L126.7 140.9 L123.2 137.3 L119.4 133.2 L116.0 128.4 L114.6 124.0 L114.0 120.0 L113.3 115.0 L112.7 110.0 L112.8 105.0 L114.0 101.0 L116.2 97.0 L118.0 93.0 L119.2 89.1 L120.3 85.3 L122.3 82.0 L125.0 78.0 L128.5 74.0 L131.0 70.0 L134.0 66.0 L136.5 61.5 Z"/></clipPath></defs>
<g clip-path="url(#clip_pc)"><rect x="35" y="310" width="239" height="196" fill="#fff" opacity="1.0" filter="url(#pc)"/></g>
<defs><clipPath id="clip_pd"><path transform="matrix(1.0415,0,0,0.843,-3.69,294.39)" d="M100.2 32.4 L104.5 36.3 L108.8 40.6 L112.2 44.1 L115.6 48.4 L118.2 51.8 L120.8 55.2 L124.2 58.2 L122.5 59.9 L118.2 60.9 L112.2 62.1 L107.9 65.0 L106.2 69.9 L103.6 72.4 L98.4 72.4 L93.3 71.6 L89.0 69.9 L85.0 67.3 L81.3 65.0 L83.8 62.1 L86.1 58.7 L86.8 54.4 L89.9 50.9 L92.4 45.8 L94.7 40.6 L96.7 37.2 Z"/><path transform="matrix(1.0415,0,0,0.843,-3.69,294.39)" d="M120.8 48.4 L125.9 45.8 L131.1 43.7 L136.3 42.3 L139.7 42.0 L138.8 44.9 L134.5 47.5 L131.1 50.9 L127.7 53.5 L124.2 52.7 L121.7 50.9 Z"/><path transform="matrix(1.0415,0,0,0.843,-3.69,294.39)" d="M144.9 36.3 L147.4 32.9 L151.7 30.7 L155.0 30.0 L155.0 45.8 L151.7 44.1 L149.2 41.5 L145.7 39.8 Z"/><path transform="matrix(1.0415,0,0,0.843,-3.69,294.39)" d="M136.3 42.0 L141.4 39.3 L145.2 37.2 L145.7 38.9 L141.8 41.0 L137.1 43.4 Z"/><path transform="matrix(1.0415,0,0,0.843,-3.69,294.39)" d="M155.0 31.2 L158.4 30.3 L162.7 31.2 L164.5 33.8 L166.2 37.2 L165.3 41.5 L163.6 44.9 L162.7 48.4 L161.0 50.9 L158.4 50.1 L155.0 48.4 Z"/><path transform="matrix(1.0415,0,0,0.843,-3.69,294.39)" d="M164.5 46.6 L170.5 49.6 L175.6 51.8 L175.3 53.5 L169.6 51.3 L163.9 48.9 Z"/><path transform="matrix(1.0415,0,0,0.843,-3.69,294.39)" d="M48.9 104.3 L50.3 99.9 L53.8 95.6 L58.0 90.5 L61.5 86.2 L65.8 81.9 L69.2 76.7 L73.5 71.6 L79.5 69.0 L84.7 68.1 L89.9 70.2 L95.0 71.9 L100.2 72.9 L102.7 75.9 L103.6 81.9 L103.5 87.0 L104.5 90.6 L100.0 94.0 L97.5 96.5 L104.0 97.2 L110.5 98.2 L112.5 99.5 L110.0 100.3 L100.0 99.8 L96.0 99.5 L90.7 101.3 L83.0 102.9 L75.3 104.4 L67.7 106.0 L60.0 107.5 L50.3 107.2 Z"/></clipPath></defs>
<g clip-path="url(#clip_pd)"><rect x="35" y="310" width="239" height="196" fill="#fff" opacity="0.9" filter="url(#pd)"/></g>
</g>
<text x="99.7" y="348.8" font-size="3.8" fill="#222" text-anchor="middle">Monocytes</text>
<text x="230.4" y="356.1" font-size="3.8" fill="#222" text-anchor="middle">Fibroblasts</text>
<text x="159.6" y="390.4" font-size="3.8" fill="#222" text-anchor="middle">T Cell</text>
<text x="228.4" y="431.6" font-size="3.8" fill="#222" text-anchor="middle">B Cell</text>
<text x="99.7" y="429.4" font-size="3.8" fill="#222" text-anchor="middle">Malignancy</text>
<text x="212.9" y="458.6" font-size="3.8" fill="#222" text-anchor="middle">Hepatocytes</text>
<text x="138.5" y="458.6" font-size="3.8" fill="#222" text-anchor="middle">Cholangiocytes</text>
<text x="104.5" y="483.9" font-size="3.8" fill="#222" text-anchor="middle">Endothelial Cell</text>
<line x1="34.2" y1="309.4" x2="34.2" y2="506.8" stroke="#8a8a8a" stroke-width="0.9"/>
<line x1="34.2" y1="506.8" x2="274.5" y2="506.8" stroke="#8a8a8a" stroke-width="0.9"/>
<line x1="32.2" y1="354.6" x2="34.2" y2="354.6" stroke="#8a8a8a" stroke-width="0.8"/>
<text x="30.7" y="354.6" font-size="4.6" fill="#333" text-anchor="middle" transform="rotate(-90 30.7 354.6)">25</text>
<line x1="32.2" y1="404.4" x2="34.2" y2="404.4" stroke="#8a8a8a" stroke-width="0.8"/>
<text x="30.7" y="404.4" font-size="4.6" fill="#333" text-anchor="middle" transform="rotate(-90 30.7 404.4)">0</text>
<line x1="32.2" y1="454.1" x2="34.2" y2="454.1" stroke="#8a8a8a" stroke-width="0.8"/>
<text x="30.7" y="454.1" font-size="4.6" fill="#333" text-anchor="middle" transform="rotate(-90 30.7 454.1)">-25</text>
<line x1="32.2" y1="503.9" x2="34.2" y2="503.9" stroke="#8a8a8a" stroke-width="0.8"/>
<text x="30.7" y="503.9" font-size="4.6" fill="#333" text-anchor="middle" transform="rotate(-90 30.7 503.9)">-50</text>
<line x1="88.8" y1="506.8" x2="88.8" y2="508.8" stroke="#8a8a8a" stroke-width="0.8"/>
<text x="88.8" y="512.6" font-size="4.6" fill="#333" text-anchor="middle">-20</text>
<line x1="144.1" y1="506.8" x2="144.1" y2="508.8" stroke="#8a8a8a" stroke-width="0.8"/>
<text x="144.1" y="512.6" font-size="4.6" fill="#333" text-anchor="middle">0</text>
<line x1="199.4" y1="506.8" x2="199.4" y2="508.8" stroke="#8a8a8a" stroke-width="0.8"/>
<text x="199.4" y="512.6" font-size="4.6" fill="#333" text-anchor="middle">20</text>
<line x1="254.6" y1="506.8" x2="254.6" y2="508.8" stroke="#8a8a8a" stroke-width="0.8"/>
<text x="254.6" y="512.6" font-size="4.6" fill="#333" text-anchor="middle">40</text>
<text x="144.6" y="521.5" font-size="5.4" fill="#222">tSNE_1</text>
<text x="0" y="0" font-size="5.4" fill="#222" text-anchor="middle" transform="translate(25.3 408.7) rotate(-90)">tSNE_2</text>
<text x="144.9" y="306.0" font-size="6.0" font-weight="bold" fill="#000" stroke="#000" stroke-width="0.2" textLength="17.3" lengthAdjust="spacingAndGlyphs">ACSL4</text>
<defs><linearGradient id="cb" x1="0" y1="1" x2="0" y2="0"><stop offset="0" stop-color="#DCD8E6"/><stop offset="0.5" stop-color="#A48CEA"/><stop offset="1" stop-color="#1A10F0"/></linearGradient></defs>
<rect x="279" y="394.9" width="4.9" height="29.9" fill="url(#cb)"/>
<text x="286" y="397.1" font-size="4.4" fill="#555">1.5</text>
<text x="286" y="406.9" font-size="4.4" fill="#555">1.0</text>
<text x="286" y="416.6" font-size="4.4" fill="#555">0.5</text>
<text x="286" y="426.4" font-size="4.4" fill="#555">0.0</text>
<text x="296.0" y="318.9" font-size="27" fill="#000" stroke="#000" stroke-width="0.4">D</text>
<line x1="338.50" y1="338.90" x2="338.50" y2="439.10" stroke="#000" stroke-width="1.25"/>
<line x1="334.20" y1="438.50" x2="487.10" y2="438.50" stroke="#000" stroke-width="1.25"/>
<line x1="334.20" y1="339.50" x2="338.50" y2="339.50" stroke="#000" stroke-width="1.3"/>
<text x="333.00" y="342.00" font-size="7.1" font-weight="bold" fill="#000" stroke="#000" stroke-width="0.28" text-anchor="end">20</text>
<line x1="334.20" y1="364.25" x2="338.50" y2="364.25" stroke="#000" stroke-width="1.3"/>
<text x="333.00" y="366.75" font-size="7.1" font-weight="bold" fill="#000" stroke="#000" stroke-width="0.28" text-anchor="end">15</text>
<line x1="334.20" y1="389.00" x2="338.50" y2="389.00" stroke="#000" stroke-width="1.3"/>
<text x="333.00" y="391.50" font-size="7.1" font-weight="bold" fill="#000" stroke="#000" stroke-width="0.28" text-anchor="end">10</text>
<line x1="334.20" y1="413.75" x2="338.50" y2="413.75" stroke="#000" stroke-width="1.3"/>
<text x="333.00" y="416.25" font-size="7.1" font-weight="bold" fill="#000" stroke="#000" stroke-width="0.28" text-anchor="end">5</text>
<line x1="334.20" y1="438.50" x2="338.50" y2="438.50" stroke="#000" stroke-width="1.3"/>
<text x="333.00" y="441.00" font-size="7.1" font-weight="bold" fill="#000" stroke="#000" stroke-width="0.28" text-anchor="end">0</text>
<rect x="344.00" y="413.40" width="12.10" height="25.10" fill="#FA7E87"/>
<line x1="350.05" y1="438.50" x2="350.05" y2="442.60" stroke="#000" stroke-width="1.3"/>
<text x="352.45" y="449.50" font-size="7.45" font-weight="bold" fill="#000" stroke="#000" stroke-width="0.28" text-anchor="end" transform="rotate(-45 352.45 449.50)">T Cell</text>
<rect x="362.10" y="354.10" width="11.90" height="84.40" fill="#FA9C3E"/>
<line x1="368.05" y1="438.50" x2="368.05" y2="442.60" stroke="#000" stroke-width="1.3"/>
<text x="370.45" y="449.50" font-size="7.45" font-weight="bold" fill="#000" stroke="#000" stroke-width="0.28" text-anchor="end" transform="rotate(-45 370.45 449.50)">Malignancy</text>
<rect x="380.00" y="387.90" width="12.00" height="50.60" fill="#0EBC0E"/>
<line x1="386.00" y1="438.50" x2="386.00" y2="442.60" stroke="#000" stroke-width="1.3"/>
<text x="388.40" y="449.50" font-size="7.45" font-weight="bold" fill="#000" stroke="#000" stroke-width="0.28" text-anchor="end" transform="rotate(-45 388.40 449.50)">Cholangiocytes</text>
<rect x="397.70" y="344.30" width="12.00" height="94.20" fill="#057B05"/>
<line x1="403.70" y1="438.50" x2="403.70" y2="442.60" stroke="#000" stroke-width="1.3"/>
<text x="406.10" y="449.50" font-size="7.45" font-weight="bold" fill="#000" stroke="#000" stroke-width="0.28" text-anchor="end" transform="rotate(-45 406.10 449.50)">Monocytes</text>
<rect x="415.40" y="375.70" width="12.00" height="62.80" fill="#1796B2"/>
<line x1="421.40" y1="438.50" x2="421.40" y2="442.60" stroke="#000" stroke-width="1.3"/>
<text x="423.80" y="449.50" font-size="7.45" font-weight="bold" fill="#000" stroke="#000" stroke-width="0.28" text-anchor="end" transform="rotate(-45 423.80 449.50)">Endothelial Cell</text>
<rect x="433.30" y="410.20" width="11.80" height="28.30" fill="#56A4F8"/>
<line x1="439.20" y1="438.50" x2="439.20" y2="442.60" stroke="#000" stroke-width="1.3"/>
<text x="441.60" y="449.50" font-size="7.45" font-weight="bold" fill="#000" stroke="#000" stroke-width="0.28" text-anchor="end" transform="rotate(-45 441.60 449.50)">B Cell</text>
<rect x="451.00" y="421.00" width="11.80" height="17.50" fill="#AF5AD6"/>
<line x1="456.90" y1="438.50" x2="456.90" y2="442.60" stroke="#000" stroke-width="1.3"/>
<text x="459.30" y="449.50" font-size="7.45" font-weight="bold" fill="#000" stroke="#000" stroke-width="0.28" text-anchor="end" transform="rotate(-45 459.30 449.50)">Hepatocytes</text>
<rect x="469.10" y="355.40" width="11.80" height="83.10" fill="#F24DD6"/>
<line x1="475.00" y1="438.50" x2="475.00" y2="442.60" stroke="#000" stroke-width="1.3"/>
<text x="477.40" y="449.50" font-size="7.45" font-weight="bold" fill="#000" stroke="#000" stroke-width="0.28" text-anchor="end" transform="rotate(-45 477.40 449.50)">Fibroblasts</text>
<text x="319.80" y="388.00" font-size="7.70" font-weight="bold" fill="#000" stroke="#000" stroke-width="0.28" text-anchor="middle" transform="rotate(-90 319.80 388.00)">Precent(%)</text>
<text x="502.8" y="318.9" font-size="27" fill="#000" stroke="#000" stroke-width="0.4">E</text>
<line x1="541.00" y1="338.90" x2="541.00" y2="439.10" stroke="#000" stroke-width="1.25"/>
<line x1="536.70" y1="438.50" x2="661.20" y2="438.50" stroke="#000" stroke-width="1.25"/>
<line x1="536.70" y1="339.50" x2="541.00" y2="339.50" stroke="#000" stroke-width="1.3"/>
<text x="535.50" y="342.00" font-size="7.1" font-weight="bold" fill="#000" stroke="#000" stroke-width="0.28" text-anchor="end">0.4</text>
<line x1="536.70" y1="364.25" x2="541.00" y2="364.25" stroke="#000" stroke-width="1.3"/>
<text x="535.50" y="366.75" font-size="7.1" font-weight="bold" fill="#000" stroke="#000" stroke-width="0.28" text-anchor="end">0.3</text>
<line x1="536.70" y1="389.00" x2="541.00" y2="389.00" stroke="#000" stroke-width="1.3"/>
<text x="535.50" y="391.50" font-size="7.1" font-weight="bold" fill="#000" stroke="#000" stroke-width="0.28" text-anchor="end">0.2</text>
<line x1="536.70" y1="413.75" x2="541.00" y2="413.75" stroke="#000" stroke-width="1.3"/>
<text x="535.50" y="416.25" font-size="7.1" font-weight="bold" fill="#000" stroke="#000" stroke-width="0.28" text-anchor="end">0.1</text>
<line x1="536.70" y1="438.50" x2="541.00" y2="438.50" stroke="#000" stroke-width="1.3"/>
<text x="535.50" y="441.00" font-size="7.1" font-weight="bold" fill="#000" stroke="#000" stroke-width="0.28" text-anchor="end">0.0</text>
<rect x="545.70" y="411.40" width="9.50" height="27.10" fill="#FA7E87"/>
<line x1="550.45" y1="438.50" x2="550.45" y2="442.60" stroke="#000" stroke-width="1.3"/>
<text x="552.85" y="449.50" font-size="7.45" font-weight="bold" fill="#000" stroke="#000" stroke-width="0.28" text-anchor="end" transform="rotate(-45 552.85 449.50)">T Cell</text>
<rect x="560.30" y="399.00" width="9.50" height="39.50" fill="#FA9C3E"/>
<line x1="565.05" y1="438.50" x2="565.05" y2="442.60" stroke="#000" stroke-width="1.3"/>
<text x="567.45" y="449.50" font-size="7.45" font-weight="bold" fill="#000" stroke="#000" stroke-width="0.28" text-anchor="end" transform="rotate(-45 567.45 449.50)">Malignancy</text>
<rect x="574.60" y="413.40" width="9.30" height="25.10" fill="#0EBC0E"/>
<line x1="579.25" y1="438.50" x2="579.25" y2="442.60" stroke="#000" stroke-width="1.3"/>
<text x="581.65" y="449.50" font-size="7.45" font-weight="bold" fill="#000" stroke="#000" stroke-width="0.28" text-anchor="end" transform="rotate(-45 581.65 449.50)">Cholangiocytes</text>
<rect x="588.90" y="357.80" width="9.40" height="80.70" fill="#057B05"/>
<line x1="593.60" y1="438.50" x2="593.60" y2="442.60" stroke="#000" stroke-width="1.3"/>
<text x="596.00" y="449.50" font-size="7.45" font-weight="bold" fill="#000" stroke="#000" stroke-width="0.28" text-anchor="end" transform="rotate(-45 596.00 449.50)">Monocytes</text>
<rect x="603.20" y="387.60" width="9.50" height="50.90" fill="#1796B2"/>
<line x1="607.95" y1="438.50" x2="607.95" y2="442.60" stroke="#000" stroke-width="1.3"/>
<text x="610.35" y="449.50" font-size="7.45" font-weight="bold" fill="#000" stroke="#000" stroke-width="0.28" text-anchor="end" transform="rotate(-45 610.35 449.50)">Endothelial Cell</text>
<rect x="617.60" y="412.20" width="9.40" height="26.30" fill="#56A4F8"/>
<line x1="622.30" y1="438.50" x2="622.30" y2="442.60" stroke="#000" stroke-width="1.3"/>
<text x="624.70" y="449.50" font-size="7.45" font-weight="bold" fill="#000" stroke="#000" stroke-width="0.28" text-anchor="end" transform="rotate(-45 624.70 449.50)">B Cell</text>
<rect x="631.80" y="419.60" width="9.40" height="18.90" fill="#AF5AD6"/>
<line x1="636.50" y1="438.50" x2="636.50" y2="442.60" stroke="#000" stroke-width="1.3"/>
<text x="638.90" y="449.50" font-size="7.45" font-weight="bold" fill="#000" stroke="#000" stroke-width="0.28" text-anchor="end" transform="rotate(-45 638.90 449.50)">Hepatocytes</text>
<rect x="646.30" y="389.70" width="9.60" height="48.80" fill="#F24DD6"/>
<line x1="651.10" y1="438.50" x2="651.10" y2="442.60" stroke="#000" stroke-width="1.3"/>
<text x="653.50" y="449.50" font-size="7.45" font-weight="bold" fill="#000" stroke="#000" stroke-width="0.28" text-anchor="end" transform="rotate(-45 653.50 449.50)">Fibroblasts</text>
<text x="521.20" y="388.80" font-size="6.70" font-weight="bold" fill="#000" stroke="#000" stroke-width="0.28" text-anchor="middle" transform="rotate(-90 521.20 388.80)">Expression of ACSL4</text>
</svg>
</body></html>
